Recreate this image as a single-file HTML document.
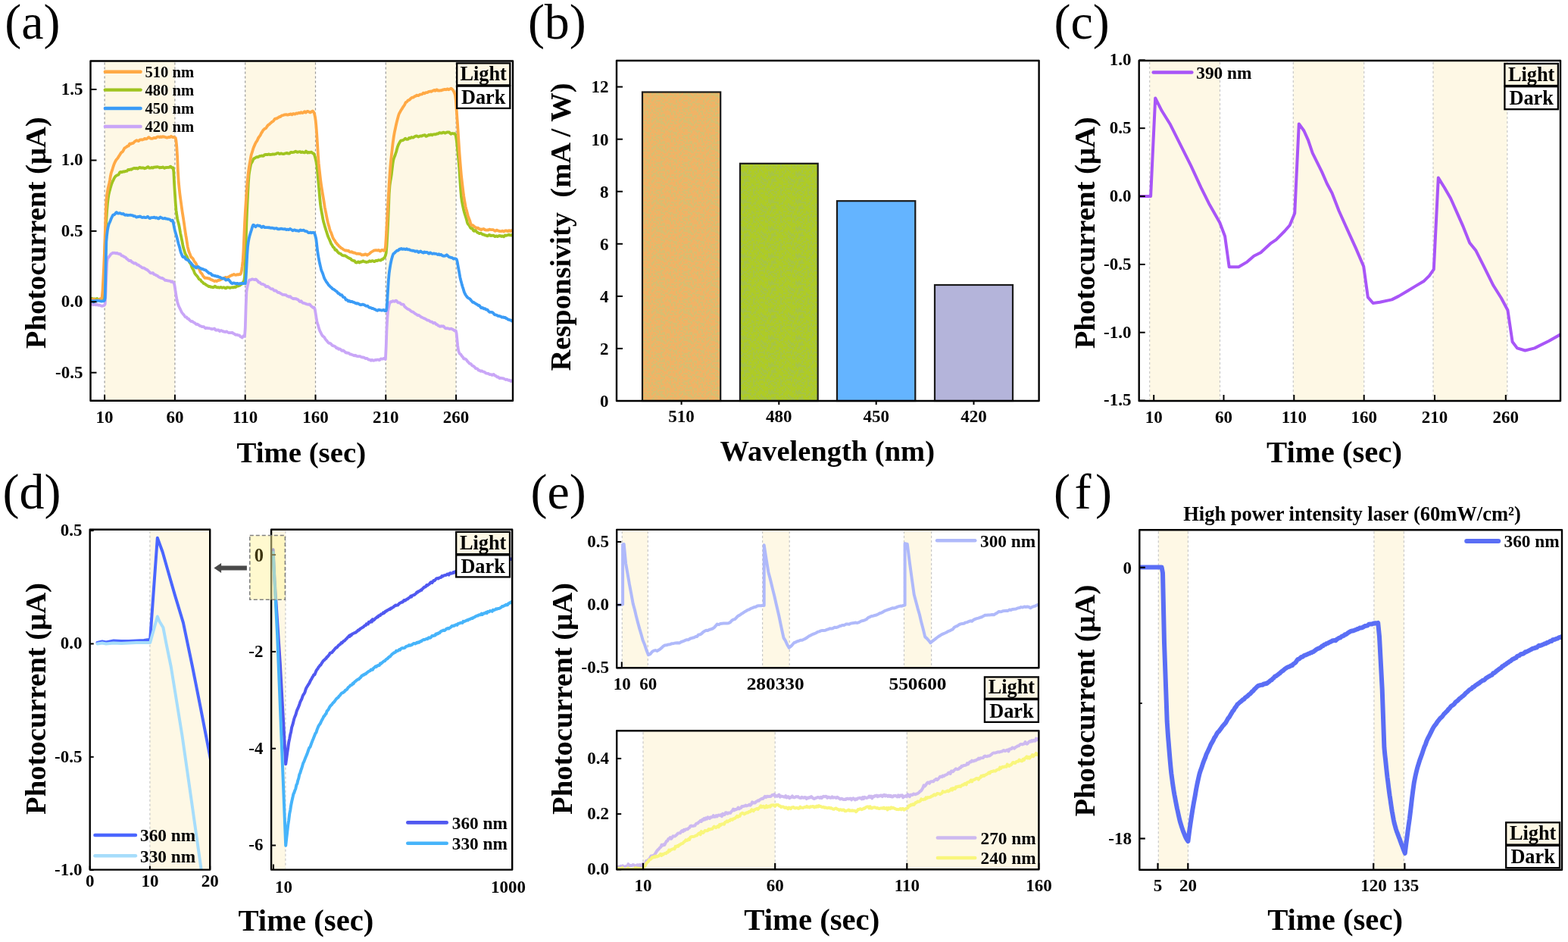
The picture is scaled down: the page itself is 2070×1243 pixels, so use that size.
<!DOCTYPE html>
<html><head><meta charset="utf-8"><title>Photocurrent figure</title>
<style>html,body{margin:0;padding:0;background:#fff;}svg{display:block;}
text{font-family:'Liberation Serif','Times New Roman',serif;}</style></head>
<body><svg width="2070" height="1243" viewBox="0 0 2070 1243">
<rect width="2070" height="1243" fill="#fff"/>
<clipPath id="ca"><rect x="119.5" y="80.5" width="557.5" height="448.2"/></clipPath>
<rect x="138.1" y="80.5" width="92.8" height="448.2" fill="#FEF8E5" stroke="none" stroke-width="0"/>
<rect x="323.7" y="80.5" width="92.8" height="448.2" fill="#FEF8E5" stroke="none" stroke-width="0"/>
<rect x="509.3" y="80.5" width="92.8" height="448.2" fill="#FEF8E5" stroke="none" stroke-width="0"/>
<line x1="138.1" y1="82.5" x2="138.1" y2="526.7" stroke="#9a9a9a" stroke-width="1.2" stroke-dasharray="3 3"/>
<line x1="230.9" y1="82.5" x2="230.9" y2="526.7" stroke="#9a9a9a" stroke-width="1.2" stroke-dasharray="3 3"/>
<line x1="323.7" y1="82.5" x2="323.7" y2="526.7" stroke="#9a9a9a" stroke-width="1.2" stroke-dasharray="3 3"/>
<line x1="416.5" y1="82.5" x2="416.5" y2="526.7" stroke="#9a9a9a" stroke-width="1.2" stroke-dasharray="3 3"/>
<line x1="509.3" y1="82.5" x2="509.3" y2="526.7" stroke="#9a9a9a" stroke-width="1.2" stroke-dasharray="3 3"/>
<line x1="602.1" y1="82.5" x2="602.1" y2="526.7" stroke="#9a9a9a" stroke-width="1.2" stroke-dasharray="3 3"/>
<path d="M119.5 400.5 L120.3 400.7 L121.1 401.3 L121.9 401.8 L122.7 402.0 L123.5 402.1 L124.3 401.6 L125.1 401.4 L125.9 402.1 L126.7 402.4 L127.5 402.1 L128.3 402.0 L129.1 402.4 L129.9 402.8 L130.7 402.5 L131.5 402.5 L132.3 403.0 L133.1 403.4 L133.9 403.7 L134.7 403.9 L135.5 403.7 L136.3 403.3 L137.1 403.1 L137.9 402.7 L138.7 401.1 L139.5 386.8 L140.3 365.3 L141.1 346.9 L141.9 341.5 L142.7 340.2 L143.5 339.3 L144.3 338.2 L145.1 337.2 L145.9 336.1 L146.7 335.0 L147.5 334.7 L148.3 334.2 L149.1 333.6 L149.9 333.8 L150.7 333.8 L151.5 333.6 L152.3 334.0 L153.1 334.4 L153.9 334.0 L154.8 334.0 L155.6 334.7 L156.4 334.8 L157.2 335.1 L158.0 335.4 L158.8 335.1 L159.6 336.0 L160.4 337.2 L161.2 337.5 L162.0 337.7 L162.8 338.2 L163.6 338.7 L164.4 339.2 L165.2 339.4 L166.0 339.9 L166.8 341.0 L167.6 341.7 L168.4 342.2 L169.2 342.9 L170.0 343.7 L170.8 344.1 L171.6 344.0 L172.4 343.8 L173.2 344.4 L174.0 345.7 L174.8 346.1 L175.6 346.4 L176.4 347.3 L177.2 347.6 L178.0 347.3 L178.8 347.2 L179.6 347.8 L180.4 348.8 L181.2 349.4 L182.0 349.5 L182.8 349.6 L183.6 350.4 L184.4 351.1 L185.2 351.3 L186.0 351.9 L186.8 352.6 L187.6 353.2 L188.4 353.5 L189.2 353.6 L190.0 353.5 L190.8 354.0 L191.6 354.7 L192.4 355.2 L193.2 355.6 L194.0 355.9 L194.8 356.4 L195.6 357.2 L196.4 358.0 L197.2 358.6 L198.0 359.6 L198.8 360.3 L199.6 360.3 L200.4 360.4 L201.2 360.1 L202.0 360.1 L202.8 361.4 L203.6 362.2 L204.4 362.2 L205.2 362.5 L206.0 363.2 L206.8 363.6 L207.6 363.7 L208.4 364.4 L209.2 365.3 L210.0 365.6 L210.8 366.0 L211.6 366.5 L212.4 366.8 L213.2 367.0 L214.0 366.9 L214.8 367.2 L215.6 367.9 L216.4 368.4 L217.2 369.0 L218.0 369.8 L218.8 369.8 L219.6 369.8 L220.4 370.2 L221.2 370.3 L222.0 370.5 L222.8 370.6 L223.6 370.7 L224.5 370.8 L225.3 371.4 L226.1 372.0 L226.9 371.4 L227.7 371.3 L228.5 372.4 L229.3 373.3 L230.1 374.7 L230.9 379.2 L231.7 384.9 L232.5 389.8 L233.3 394.2 L234.1 398.0 L234.9 401.2 L235.7 403.4 L236.5 405.0 L237.3 406.7 L238.1 408.3 L238.9 410.0 L239.7 411.7 L240.5 412.9 L241.3 413.9 L242.1 414.8 L242.9 415.8 L243.7 417.0 L244.5 418.1 L245.3 418.3 L246.1 418.4 L246.9 419.6 L247.7 420.6 L248.5 420.5 L249.3 420.9 L250.1 422.2 L250.9 422.9 L251.7 423.6 L252.5 424.1 L253.3 424.0 L254.1 424.2 L254.9 425.0 L255.7 425.5 L256.5 425.8 L257.3 426.3 L258.1 427.0 L258.9 427.8 L259.7 428.0 L260.5 427.7 L261.3 428.2 L262.1 428.8 L262.9 429.2 L263.7 429.9 L264.5 430.2 L265.3 430.3 L266.1 430.8 L266.9 431.2 L267.7 431.2 L268.5 431.1 L269.3 431.4 L270.1 432.1 L270.9 433.0 L271.7 433.3 L272.5 432.7 L273.3 432.7 L274.1 433.1 L274.9 433.2 L275.7 433.1 L276.5 433.2 L277.3 433.5 L278.1 433.8 L278.9 433.9 L279.7 434.4 L280.5 434.2 L281.3 434.0 L282.1 433.8 L282.9 433.5 L283.7 434.1 L284.5 435.5 L285.3 435.8 L286.1 435.4 L286.9 435.5 L287.7 435.4 L288.5 435.5 L289.3 436.6 L290.1 437.0 L290.9 436.3 L291.7 436.1 L292.5 436.4 L293.3 436.6 L294.2 437.2 L295.0 437.6 L295.8 437.5 L296.6 437.9 L297.4 438.0 L298.2 437.6 L299.0 437.4 L299.8 437.8 L300.6 438.4 L301.4 438.8 L302.2 439.1 L303.0 439.1 L303.8 439.0 L304.6 439.2 L305.4 439.1 L306.2 438.8 L307.0 439.1 L307.8 440.0 L308.6 440.2 L309.4 440.5 L310.2 441.2 L311.0 441.9 L311.8 441.8 L312.6 441.6 L313.4 441.9 L314.2 442.3 L315.0 442.3 L315.8 442.3 L316.6 443.1 L317.4 444.2 L318.2 444.5 L319.0 445.1 L319.8 445.5 L320.6 444.3 L321.4 443.2 L322.2 443.5 L323.0 443.9 L323.8 432.5 L324.6 405.2 L325.4 384.9 L326.2 379.9 L327.0 376.0 L327.8 372.9 L328.6 370.5 L329.4 369.4 L330.2 369.4 L331.0 369.3 L331.8 368.9 L332.6 368.5 L333.4 368.4 L334.2 368.7 L335.0 368.8 L335.8 369.0 L336.6 369.1 L337.4 368.5 L338.2 368.8 L339.0 369.8 L339.8 370.3 L340.6 371.3 L341.4 372.6 L342.2 372.6 L343.0 372.7 L343.8 373.5 L344.6 374.4 L345.4 374.8 L346.2 374.8 L347.0 374.8 L347.8 375.4 L348.6 375.8 L349.4 376.1 L350.2 377.0 L351.0 378.1 L351.8 378.4 L352.6 377.8 L353.4 377.8 L354.2 378.4 L355.0 379.1 L355.8 379.7 L356.6 380.3 L357.4 380.9 L358.2 381.3 L359.0 381.3 L359.8 381.2 L360.6 381.9 L361.4 382.8 L362.2 383.6 L363.0 383.7 L363.9 383.3 L364.7 383.8 L365.5 384.7 L366.3 385.5 L367.1 386.1 L367.9 386.0 L368.7 386.0 L369.5 386.6 L370.3 387.2 L371.1 387.4 L371.9 388.0 L372.7 388.6 L373.5 388.9 L374.3 388.8 L375.1 388.9 L375.9 389.2 L376.7 389.1 L377.5 389.1 L378.3 390.1 L379.1 390.7 L379.9 390.8 L380.7 391.2 L381.5 391.7 L382.3 391.2 L383.1 391.1 L383.9 392.0 L384.7 392.9 L385.5 393.3 L386.3 393.5 L387.1 394.2 L387.9 394.3 L388.7 394.0 L389.5 394.4 L390.3 394.2 L391.1 394.2 L391.9 394.9 L392.7 395.1 L393.5 395.3 L394.3 396.4 L395.1 397.5 L395.9 398.0 L396.7 397.6 L397.5 397.2 L398.3 397.9 L399.1 399.2 L399.9 399.8 L400.7 399.9 L401.5 400.0 L402.3 400.3 L403.1 400.6 L403.9 400.9 L404.7 401.3 L405.5 401.5 L406.3 401.7 L407.1 401.9 L407.9 401.7 L408.7 401.5 L409.5 402.2 L410.3 403.4 L411.1 404.2 L411.9 404.7 L412.7 405.6 L413.5 406.0 L414.3 405.7 L415.1 406.2 L415.9 409.0 L416.7 413.8 L417.5 418.8 L418.3 423.6 L419.1 426.9 L419.9 428.9 L420.7 431.9 L421.5 434.8 L422.3 436.8 L423.1 438.2 L423.9 439.8 L424.7 441.4 L425.5 442.7 L426.3 443.7 L427.1 444.2 L427.9 444.8 L428.7 446.1 L429.5 447.4 L430.3 448.4 L431.1 449.3 L431.9 450.3 L432.8 451.3 L433.6 452.4 L434.4 452.8 L435.2 452.8 L436.0 453.2 L436.8 453.7 L437.6 454.4 L438.4 455.7 L439.2 456.2 L440.0 456.1 L440.8 456.5 L441.6 457.0 L442.4 457.2 L443.2 458.1 L444.0 459.2 L444.8 459.5 L445.6 459.2 L446.4 460.0 L447.2 460.8 L448.0 460.5 L448.8 460.4 L449.6 461.0 L450.4 461.9 L451.2 462.8 L452.0 462.8 L452.8 462.4 L453.6 462.7 L454.4 463.4 L455.2 464.1 L456.0 465.0 L456.8 465.6 L457.6 465.5 L458.4 465.4 L459.2 465.9 L460.0 465.8 L460.8 466.2 L461.6 467.1 L462.4 467.5 L463.2 467.5 L464.0 467.7 L464.8 468.1 L465.6 468.5 L466.4 468.7 L467.2 469.2 L468.0 469.4 L468.8 469.0 L469.6 469.0 L470.4 469.7 L471.2 470.0 L472.0 470.2 L472.8 470.3 L473.6 470.1 L474.4 470.1 L475.2 470.2 L476.0 470.7 L476.8 471.0 L477.6 471.3 L478.4 471.6 L479.2 471.5 L480.0 471.6 L480.8 471.8 L481.6 472.4 L482.4 473.0 L483.2 473.0 L484.0 472.8 L484.8 473.1 L485.6 473.8 L486.4 474.4 L487.2 474.7 L488.0 474.6 L488.8 475.2 L489.6 475.7 L490.4 475.0 L491.2 474.8 L492.0 475.5 L492.8 475.8 L493.6 475.7 L494.4 475.4 L495.2 475.0 L496.0 475.1 L496.8 475.0 L497.6 474.6 L498.4 474.6 L499.2 474.6 L500.0 474.9 L500.8 475.3 L501.6 474.7 L502.5 473.6 L503.3 473.5 L504.1 473.7 L504.9 473.6 L505.7 473.5 L506.5 473.0 L507.3 472.7 L508.1 473.6 L508.9 474.1 L509.7 457.7 L510.5 434.7 L511.3 420.2 L512.1 410.4 L512.9 406.1 L513.7 402.5 L514.5 399.2 L515.3 398.3 L516.1 398.6 L516.9 398.2 L517.7 397.5 L518.5 397.2 L519.3 397.4 L520.1 397.7 L520.9 397.9 L521.7 397.5 L522.5 396.6 L523.3 396.8 L524.1 397.8 L524.9 398.8 L525.7 399.4 L526.5 399.3 L527.3 399.3 L528.1 399.8 L528.9 400.5 L529.7 401.3 L530.5 401.7 L531.3 401.7 L532.1 401.7 L532.9 402.2 L533.7 403.7 L534.5 404.9 L535.3 405.4 L536.1 406.2 L536.9 406.8 L537.7 407.4 L538.5 407.9 L539.3 408.1 L540.1 408.5 L540.9 409.0 L541.7 409.7 L542.5 410.5 L543.3 411.1 L544.1 411.3 L544.9 411.6 L545.7 411.9 L546.5 412.6 L547.3 413.3 L548.1 413.8 L548.9 414.4 L549.7 414.8 L550.5 415.3 L551.3 416.0 L552.1 415.9 L552.9 416.0 L553.7 416.6 L554.5 417.2 L555.3 417.8 L556.1 418.4 L556.9 418.7 L557.7 419.0 L558.5 419.5 L559.3 420.0 L560.1 420.2 L560.9 420.4 L561.7 421.0 L562.5 421.4 L563.3 421.9 L564.1 422.6 L564.9 422.7 L565.7 422.7 L566.5 423.1 L567.3 423.7 L568.1 424.4 L568.9 424.6 L569.7 424.6 L570.5 424.9 L571.3 425.8 L572.2 426.5 L573.0 426.2 L573.8 425.9 L574.6 426.4 L575.4 427.5 L576.2 428.2 L577.0 428.1 L577.8 428.9 L578.6 429.9 L579.4 429.9 L580.2 430.3 L581.0 430.9 L581.8 430.5 L582.6 430.2 L583.4 430.7 L584.2 430.7 L585.0 430.3 L585.8 430.7 L586.6 431.8 L587.4 432.7 L588.2 433.3 L589.0 433.4 L589.8 433.1 L590.6 433.1 L591.4 433.3 L592.2 433.5 L593.0 434.1 L593.8 434.1 L594.6 433.8 L595.4 433.7 L596.2 433.8 L597.0 434.3 L597.8 434.8 L598.6 435.2 L599.4 436.0 L600.2 436.4 L601.0 436.2 L601.8 436.4 L602.6 439.8 L603.4 447.7 L604.2 455.9 L605.0 461.7 L605.8 464.4 L606.6 466.4 L607.4 467.1 L608.2 467.5 L609.0 468.8 L609.8 470.1 L610.6 470.7 L611.4 471.8 L612.2 473.3 L613.0 473.6 L613.8 473.5 L614.6 473.9 L615.4 474.4 L616.2 475.4 L617.0 476.6 L617.8 477.4 L618.6 478.2 L619.4 479.3 L620.2 479.9 L621.0 479.8 L621.8 480.3 L622.6 481.6 L623.4 482.5 L624.2 482.8 L625.0 483.1 L625.8 483.7 L626.6 484.4 L627.4 485.5 L628.2 486.2 L629.0 486.3 L629.8 486.3 L630.6 486.9 L631.4 488.3 L632.2 488.7 L633.0 488.7 L633.8 489.4 L634.6 489.8 L635.4 489.4 L636.2 489.4 L637.0 490.1 L637.8 490.5 L638.6 490.7 L639.4 490.9 L640.2 491.3 L641.0 492.2 L641.9 492.7 L642.7 492.7 L643.5 492.8 L644.3 492.8 L645.1 493.2 L645.9 493.9 L646.7 494.1 L647.5 494.1 L648.3 494.2 L649.1 494.8 L649.9 495.0 L650.7 494.3 L651.5 493.9 L652.3 494.4 L653.1 495.5 L653.9 495.9 L654.7 495.9 L655.5 496.8 L656.3 497.5 L657.1 497.4 L657.9 497.5 L658.7 498.4 L659.5 499.2 L660.3 499.1 L661.1 498.7 L661.9 499.0 L662.7 499.2 L663.5 499.1 L664.3 499.3 L665.1 499.6 L665.9 500.0 L666.7 500.5 L667.5 501.0 L668.3 500.9 L669.1 500.6 L669.9 501.0 L670.7 501.6 L671.5 501.8 L672.3 501.7 L673.1 501.9 L673.9 502.8 L674.7 503.1 L675.5 502.2 L676.3 502.6" fill="none" stroke="#C9A6F7" stroke-width="3.8" stroke-linejoin="round" stroke-linecap="round" clip-path="url(#ca)"/>
<path d="M119.5 394.6 L120.3 394.4 L121.1 394.0 L121.9 393.9 L122.7 394.7 L123.5 394.9 L124.3 394.5 L125.1 394.5 L125.9 394.9 L126.7 394.8 L127.5 394.1 L128.3 394.0 L129.1 394.5 L129.9 395.3 L130.7 395.9 L131.5 395.5 L132.3 395.2 L133.1 395.0 L133.9 395.0 L134.7 395.7 L135.5 396.0 L136.3 395.7 L137.1 384.5 L137.9 356.0 L138.7 324.3 L139.5 304.0 L140.3 290.6 L141.1 278.4 L141.9 268.9 L142.7 262.0 L143.5 256.7 L144.3 253.3 L145.1 250.5 L145.9 247.4 L146.7 244.7 L147.5 242.2 L148.3 240.2 L149.1 238.7 L149.9 236.9 L150.7 235.4 L151.5 233.9 L152.3 232.8 L153.1 232.2 L153.9 231.6 L154.8 231.1 L155.6 230.9 L156.4 230.5 L157.2 229.2 L158.0 227.6 L158.8 226.9 L159.6 226.9 L160.4 227.3 L161.2 227.2 L162.0 226.6 L162.8 226.5 L163.6 226.6 L164.4 226.3 L165.2 226.1 L166.0 225.9 L166.8 225.8 L167.6 225.7 L168.4 224.8 L169.2 223.8 L170.0 224.0 L170.8 224.1 L171.6 223.6 L172.4 223.5 L173.2 223.8 L174.0 223.3 L174.8 222.6 L175.6 222.5 L176.4 222.2 L177.2 221.9 L178.0 222.2 L178.8 222.4 L179.6 221.9 L180.4 221.8 L181.2 222.5 L182.0 222.5 L182.8 221.9 L183.6 221.3 L184.4 220.9 L185.2 221.1 L186.0 221.7 L186.8 221.5 L187.6 221.4 L188.4 221.5 L189.2 221.4 L190.0 221.9 L190.8 222.3 L191.6 222.0 L192.4 221.9 L193.2 221.5 L194.0 220.9 L194.8 220.4 L195.6 220.2 L196.4 221.0 L197.2 221.7 L198.0 221.7 L198.8 221.6 L199.6 221.4 L200.4 221.0 L201.2 221.4 L202.0 221.6 L202.8 220.9 L203.6 220.6 L204.4 220.6 L205.2 220.5 L206.0 220.5 L206.8 220.4 L207.6 220.2 L208.4 220.3 L209.2 220.5 L210.0 220.8 L210.8 221.4 L211.6 221.2 L212.4 220.9 L213.2 221.0 L214.0 221.0 L214.8 220.4 L215.6 220.7 L216.4 221.6 L217.2 221.8 L218.0 221.3 L218.8 221.0 L219.6 221.1 L220.4 221.0 L221.2 220.9 L222.0 220.8 L222.8 221.0 L223.6 220.8 L224.5 219.8 L225.3 219.7 L226.1 220.8 L226.9 221.4 L227.7 221.1 L228.5 221.3 L229.3 226.4 L230.1 242.7 L230.9 255.2 L231.7 267.5 L232.5 277.2 L233.3 283.4 L234.1 288.4 L234.9 292.0 L235.7 294.8 L236.5 298.1 L237.3 302.5 L238.1 307.3 L238.9 311.2 L239.7 314.8 L240.5 318.9 L241.3 323.2 L242.1 326.8 L242.9 329.4 L243.7 332.1 L244.5 334.7 L245.3 336.2 L246.1 337.3 L246.9 338.8 L247.7 340.7 L248.5 342.4 L249.3 344.1 L250.1 345.9 L250.9 347.1 L251.7 347.9 L252.5 350.1 L253.3 352.6 L254.1 354.2 L254.9 355.4 L255.7 356.9 L256.5 359.1 L257.3 361.1 L258.1 362.0 L258.9 362.9 L259.7 363.8 L260.5 364.7 L261.3 365.9 L262.1 367.3 L262.9 368.5 L263.7 368.8 L264.5 369.0 L265.3 370.2 L266.1 371.5 L266.9 372.0 L267.7 372.5 L268.5 373.7 L269.3 374.3 L270.1 374.4 L270.9 374.9 L271.7 375.6 L272.5 376.1 L273.3 376.6 L274.1 377.0 L274.9 377.6 L275.7 378.2 L276.5 378.0 L277.3 378.0 L278.1 378.7 L278.9 378.8 L279.7 378.7 L280.5 379.1 L281.3 379.3 L282.1 379.2 L282.9 378.4 L283.7 377.6 L284.5 378.0 L285.3 378.9 L286.1 379.1 L286.9 379.3 L287.7 379.1 L288.5 379.2 L289.3 379.6 L290.1 379.5 L290.9 379.1 L291.7 379.0 L292.5 379.4 L293.3 379.8 L294.2 379.5 L295.0 379.2 L295.8 379.3 L296.6 379.5 L297.4 380.2 L298.2 380.4 L299.0 379.5 L299.8 379.1 L300.6 379.4 L301.4 379.3 L302.2 379.3 L303.0 379.7 L303.8 380.0 L304.6 379.5 L305.4 379.3 L306.2 379.4 L307.0 379.2 L307.8 379.4 L308.6 379.3 L309.4 378.6 L310.2 378.7 L311.0 379.1 L311.8 378.5 L312.6 377.5 L313.4 377.3 L314.2 377.5 L315.0 377.2 L315.8 376.8 L316.6 376.7 L317.4 376.1 L318.2 375.5 L319.0 375.0 L319.8 374.1 L320.6 372.7 L321.4 371.5 L322.2 370.2 L323.0 365.3 L323.8 346.4 L324.6 320.1 L325.4 293.9 L326.2 274.9 L327.0 257.6 L327.8 242.1 L328.6 231.3 L329.4 225.8 L330.2 221.5 L331.0 217.5 L331.8 215.1 L332.6 214.2 L333.4 212.6 L334.2 210.5 L335.0 209.4 L335.8 208.9 L336.6 208.6 L337.4 208.0 L338.2 207.5 L339.0 207.1 L339.8 207.1 L340.6 207.3 L341.4 206.9 L342.2 206.3 L343.0 205.8 L343.8 205.8 L344.6 205.8 L345.4 205.5 L346.2 205.6 L347.0 205.9 L347.8 205.7 L348.6 205.0 L349.4 204.2 L350.2 204.0 L351.0 204.0 L351.8 203.9 L352.6 204.0 L353.4 204.1 L354.2 203.6 L355.0 203.5 L355.8 203.9 L356.6 204.1 L357.4 203.9 L358.2 203.9 L359.0 203.8 L359.8 203.4 L360.6 203.4 L361.4 203.6 L362.2 203.6 L363.0 203.3 L363.9 203.2 L364.7 202.9 L365.5 202.4 L366.3 202.2 L367.1 202.0 L367.9 202.4 L368.7 203.1 L369.5 203.0 L370.3 202.6 L371.1 202.5 L371.9 202.6 L372.7 203.0 L373.5 203.2 L374.3 203.2 L375.1 203.1 L375.9 202.5 L376.7 202.3 L377.5 202.3 L378.3 201.9 L379.1 201.8 L379.9 202.4 L380.7 202.7 L381.5 202.5 L382.3 202.5 L383.1 201.6 L383.9 200.8 L384.7 200.9 L385.5 201.1 L386.3 201.2 L387.1 201.0 L387.9 200.8 L388.7 200.6 L389.5 200.0 L390.3 199.7 L391.1 200.1 L391.9 200.7 L392.7 200.9 L393.5 200.6 L394.3 200.4 L395.1 200.3 L395.9 200.1 L396.7 200.3 L397.5 201.2 L398.3 201.0 L399.1 200.4 L399.9 200.8 L400.7 201.2 L401.5 201.3 L402.3 201.3 L403.1 200.5 L403.9 199.5 L404.7 200.1 L405.5 201.3 L406.3 201.6 L407.1 201.1 L407.9 200.8 L408.7 201.3 L409.5 201.3 L410.3 200.7 L411.1 200.7 L411.9 201.4 L412.7 202.1 L413.5 202.4 L414.3 202.8 L415.1 204.6 L415.9 207.0 L416.7 210.4 L417.5 213.8 L418.3 218.8 L419.1 226.6 L419.9 235.8 L420.7 244.4 L421.5 253.3 L422.3 262.6 L423.1 270.3 L423.9 275.9 L424.7 280.2 L425.5 284.3 L426.3 288.9 L427.1 292.6 L427.9 295.3 L428.7 298.2 L429.5 300.9 L430.3 303.5 L431.1 305.9 L431.9 308.5 L432.8 311.3 L433.6 313.3 L434.4 315.0 L435.2 316.8 L436.0 318.7 L436.8 320.9 L437.6 322.4 L438.4 323.4 L439.2 325.0 L440.0 326.3 L440.8 326.5 L441.6 327.7 L442.4 329.7 L443.2 330.1 L444.0 329.8 L444.8 330.9 L445.6 332.2 L446.4 333.1 L447.2 333.8 L448.0 334.3 L448.8 334.6 L449.6 334.8 L450.4 335.5 L451.2 336.3 L452.0 336.8 L452.8 337.0 L453.6 337.4 L454.4 337.3 L455.2 337.2 L456.0 337.6 L456.8 338.1 L457.6 338.6 L458.4 339.2 L459.2 339.8 L460.0 340.1 L460.8 340.6 L461.6 341.0 L462.4 341.1 L463.2 341.8 L464.0 342.8 L464.8 343.3 L465.6 343.6 L466.4 343.9 L467.2 344.1 L468.0 344.2 L468.8 345.3 L469.6 346.3 L470.4 346.5 L471.2 346.5 L472.0 345.9 L472.8 345.3 L473.6 345.7 L474.4 346.6 L475.2 346.2 L476.0 345.3 L476.8 345.4 L477.6 345.6 L478.4 344.9 L479.2 344.3 L480.0 344.7 L480.8 345.3 L481.6 345.4 L482.4 345.4 L483.2 345.9 L484.0 346.0 L484.8 345.7 L485.6 345.7 L486.4 345.4 L487.2 344.6 L488.0 344.2 L488.8 344.8 L489.6 345.0 L490.4 344.7 L491.2 344.2 L492.0 344.1 L492.8 344.5 L493.6 345.1 L494.4 345.2 L495.2 344.7 L496.0 343.9 L496.8 343.9 L497.6 344.2 L498.4 343.9 L499.2 343.4 L500.0 343.2 L500.8 343.3 L501.6 343.5 L502.5 343.7 L503.3 342.9 L504.1 342.1 L504.9 342.4 L505.7 341.9 L506.5 340.8 L507.3 340.1 L508.1 339.0 L508.9 337.1 L509.7 333.8 L510.5 324.6 L511.3 310.9 L512.1 295.2 L512.9 276.8 L513.7 256.0 L514.5 245.1 L515.3 239.4 L516.1 235.0 L516.9 229.6 L517.7 222.8 L518.5 216.3 L519.3 211.3 L520.1 208.4 L520.9 206.6 L521.7 204.5 L522.5 202.0 L523.3 199.6 L524.1 196.6 L524.9 193.7 L525.7 191.6 L526.5 189.9 L527.3 188.4 L528.1 187.1 L528.9 185.9 L529.7 185.4 L530.5 185.4 L531.3 185.4 L532.1 185.0 L532.9 184.4 L533.7 184.0 L534.5 183.2 L535.3 182.7 L536.1 183.3 L536.9 183.9 L537.7 183.9 L538.5 183.7 L539.3 183.0 L540.1 182.0 L540.9 182.1 L541.7 182.4 L542.5 181.6 L543.3 181.0 L544.1 181.5 L544.9 181.7 L545.7 181.4 L546.5 180.8 L547.3 180.3 L548.1 179.8 L548.9 179.6 L549.7 179.4 L550.5 179.4 L551.3 180.0 L552.1 180.6 L552.9 180.3 L553.7 179.9 L554.5 179.7 L555.3 179.4 L556.1 179.7 L556.9 179.6 L557.7 178.8 L558.5 178.6 L559.3 178.7 L560.1 178.4 L560.9 178.2 L561.7 179.0 L562.5 179.9 L563.3 179.6 L564.1 179.1 L564.9 178.9 L565.7 178.2 L566.5 177.8 L567.3 178.3 L568.1 178.2 L568.9 177.4 L569.7 177.8 L570.5 178.3 L571.3 177.6 L572.2 177.4 L573.0 177.3 L573.8 177.1 L574.6 177.3 L575.4 177.4 L576.2 176.7 L577.0 176.4 L577.8 176.5 L578.6 176.4 L579.4 175.6 L580.2 175.1 L581.0 175.4 L581.8 175.5 L582.6 175.5 L583.4 175.6 L584.2 175.1 L585.0 174.7 L585.8 174.6 L586.6 175.1 L587.4 175.6 L588.2 175.5 L589.0 175.0 L589.8 174.6 L590.6 174.4 L591.4 174.5 L592.2 174.4 L593.0 174.4 L593.8 175.4 L594.6 176.4 L595.4 176.8 L596.2 176.4 L597.0 176.0 L597.8 176.2 L598.6 176.3 L599.4 176.2 L600.2 176.4 L601.0 177.2 L601.8 179.5 L602.6 184.4 L603.4 191.1 L604.2 199.1 L605.0 207.5 L605.8 215.7 L606.6 226.6 L607.4 239.3 L608.2 250.9 L609.0 260.1 L609.8 265.7 L610.6 269.9 L611.4 273.7 L612.2 277.3 L613.0 280.4 L613.8 282.8 L614.6 285.3 L615.4 287.9 L616.2 290.8 L617.0 294.0 L617.8 295.7 L618.6 296.4 L619.4 297.5 L620.2 298.9 L621.0 300.4 L621.8 301.3 L622.6 301.1 L623.4 301.4 L624.2 302.8 L625.0 304.2 L625.8 304.9 L626.6 304.3 L627.4 303.9 L628.2 304.7 L629.0 305.5 L629.8 306.3 L630.6 307.0 L631.4 307.2 L632.2 307.8 L633.0 308.1 L633.8 307.8 L634.6 307.7 L635.4 308.0 L636.2 308.5 L637.0 309.3 L637.8 309.6 L638.6 309.5 L639.4 309.9 L640.2 310.4 L641.0 310.5 L641.9 310.6 L642.7 311.1 L643.5 311.4 L644.3 311.1 L645.1 310.5 L645.9 309.8 L646.7 310.0 L647.5 311.0 L648.3 311.2 L649.1 310.7 L649.9 310.9 L650.7 310.9 L651.5 310.6 L652.3 311.2 L653.1 312.1 L653.9 312.0 L654.7 311.4 L655.5 311.5 L656.3 312.1 L657.1 312.0 L657.9 311.3 L658.7 311.2 L659.5 311.4 L660.3 311.1 L661.1 311.4 L661.9 312.0 L662.7 311.7 L663.5 311.3 L664.3 311.8 L665.1 312.3 L665.9 311.5 L666.7 310.5 L667.5 310.6 L668.3 310.9 L669.1 310.4 L669.9 310.4 L670.7 310.2 L671.5 309.6 L672.3 309.7 L673.1 310.3 L673.9 310.5 L674.7 310.2 L675.5 310.6 L676.3 309.7" fill="none" stroke="#A0C420" stroke-width="3.8" stroke-linejoin="round" stroke-linecap="round" clip-path="url(#ca)"/>
<path d="M119.5 396.4 L120.3 395.1 L121.1 395.5 L121.9 395.9 L122.7 395.3 L123.5 394.7 L124.3 394.9 L125.1 395.7 L125.9 396.3 L126.7 396.4 L127.5 396.9 L128.3 396.6 L129.1 395.9 L129.9 395.8 L130.7 395.6 L131.5 394.9 L132.3 394.1 L133.1 394.1 L133.9 394.5 L134.7 392.2 L135.5 382.8 L136.3 368.1 L137.1 351.9 L137.9 333.9 L138.7 309.0 L139.5 284.1 L140.3 266.1 L141.1 257.9 L141.9 252.5 L142.7 248.2 L143.5 244.7 L144.3 241.4 L145.1 237.3 L145.9 232.4 L146.7 228.5 L147.5 226.2 L148.3 223.9 L149.1 221.1 L149.9 218.7 L150.7 216.4 L151.5 214.6 L152.3 213.0 L153.1 211.5 L153.9 210.4 L154.8 209.5 L155.6 208.4 L156.4 207.1 L157.2 205.8 L158.0 204.6 L158.8 203.3 L159.6 202.0 L160.4 201.0 L161.2 200.7 L162.0 199.9 L162.8 198.6 L163.6 196.9 L164.4 195.4 L165.2 195.0 L166.0 194.6 L166.8 193.9 L167.6 193.5 L168.4 192.6 L169.2 192.7 L170.0 192.3 L170.8 190.1 L171.6 189.5 L172.4 190.1 L173.2 189.8 L174.0 189.2 L174.8 189.0 L175.6 189.0 L176.4 188.4 L177.2 187.4 L178.0 186.6 L178.8 186.2 L179.6 185.6 L180.4 185.2 L181.2 185.5 L182.0 185.9 L182.8 186.2 L183.6 185.6 L184.4 184.6 L185.2 184.5 L186.0 184.3 L186.8 184.2 L187.6 184.5 L188.4 184.3 L189.2 184.0 L190.0 183.7 L190.8 183.0 L191.6 182.9 L192.4 183.4 L193.2 183.4 L194.0 183.0 L194.8 182.5 L195.6 181.7 L196.4 181.1 L197.2 181.6 L198.0 182.3 L198.8 182.6 L199.6 182.8 L200.4 182.9 L201.2 182.8 L202.0 182.5 L202.8 182.1 L203.6 181.8 L204.4 181.9 L205.2 182.2 L206.0 181.9 L206.8 181.1 L207.6 180.7 L208.4 180.6 L209.2 180.5 L210.0 180.7 L210.8 181.1 L211.6 180.6 L212.4 180.3 L213.2 181.0 L214.0 180.7 L214.8 180.2 L215.6 180.5 L216.4 180.5 L217.2 180.6 L218.0 181.0 L218.8 181.2 L219.6 181.5 L220.4 181.6 L221.2 181.5 L222.0 181.2 L222.8 180.9 L223.6 181.1 L224.5 181.1 L225.3 180.2 L226.1 179.9 L226.9 180.5 L227.7 181.1 L228.5 181.1 L229.3 180.8 L230.1 181.2 L230.9 181.8 L231.7 181.9 L232.5 185.7 L233.3 193.7 L234.1 206.3 L234.9 225.7 L235.7 238.6 L236.5 247.3 L237.3 254.9 L238.1 261.2 L238.9 266.8 L239.7 272.8 L240.5 278.4 L241.3 283.6 L242.1 288.7 L242.9 294.0 L243.7 299.7 L244.5 305.2 L245.3 310.4 L246.1 314.9 L246.9 320.1 L247.7 325.3 L248.5 328.8 L249.3 331.7 L250.1 333.8 L250.9 335.6 L251.7 338.0 L252.5 339.5 L253.3 339.9 L254.1 340.7 L254.9 341.7 L255.7 343.3 L256.5 345.0 L257.3 345.9 L258.1 346.6 L258.9 348.1 L259.7 350.0 L260.5 351.7 L261.3 353.3 L262.1 354.3 L262.9 355.0 L263.7 356.9 L264.5 359.1 L265.3 360.1 L266.1 360.8 L266.9 361.9 L267.7 363.5 L268.5 364.7 L269.3 365.6 L270.1 366.6 L270.9 366.9 L271.7 366.6 L272.5 366.9 L273.3 367.0 L274.1 366.9 L274.9 367.4 L275.7 367.6 L276.5 367.4 L277.3 368.1 L278.1 368.9 L278.9 368.9 L279.7 369.3 L280.5 369.9 L281.3 370.0 L282.1 370.5 L282.9 371.1 L283.7 370.8 L284.5 370.5 L285.3 370.9 L286.1 371.1 L286.9 370.6 L287.7 370.0 L288.5 370.0 L289.3 369.9 L290.1 369.5 L290.9 369.4 L291.7 368.7 L292.5 368.0 L293.3 368.1 L294.2 367.8 L295.0 367.0 L295.8 366.9 L296.6 366.8 L297.4 366.0 L298.2 365.9 L299.0 366.6 L299.8 366.4 L300.6 365.9 L301.4 365.7 L302.2 365.3 L303.0 364.6 L303.8 364.1 L304.6 363.9 L305.4 363.4 L306.2 363.0 L307.0 363.1 L307.8 362.5 L308.6 361.9 L309.4 362.2 L310.2 362.8 L311.0 362.8 L311.8 362.8 L312.6 362.3 L313.4 362.1 L314.2 362.5 L315.0 362.3 L315.8 361.8 L316.6 361.9 L317.4 362.0 L318.2 360.4 L319.0 356.9 L319.8 351.2 L320.6 344.2 L321.4 331.5 L322.2 313.9 L323.0 295.3 L323.8 280.2 L324.6 267.7 L325.4 255.8 L326.2 245.0 L327.0 235.8 L327.8 228.3 L328.6 222.1 L329.4 217.0 L330.2 212.5 L331.0 207.9 L331.8 204.0 L332.6 201.6 L333.4 199.2 L334.2 196.3 L335.0 194.1 L335.8 192.4 L336.6 190.6 L337.4 188.8 L338.2 187.3 L339.0 186.4 L339.8 184.9 L340.6 183.0 L341.4 181.5 L342.2 180.5 L343.0 179.4 L343.8 178.2 L344.6 176.4 L345.4 175.0 L346.2 174.0 L347.0 172.4 L347.8 171.3 L348.6 170.7 L349.4 169.9 L350.2 169.7 L351.0 169.2 L351.8 168.0 L352.6 166.7 L353.4 165.7 L354.2 164.9 L355.0 164.4 L355.8 163.9 L356.6 162.9 L357.4 162.3 L358.2 161.6 L359.0 160.8 L359.8 160.5 L360.6 160.0 L361.4 159.1 L362.2 157.8 L363.0 156.8 L363.9 156.5 L364.7 156.6 L365.5 156.4 L366.3 155.7 L367.1 155.2 L367.9 154.9 L368.7 154.1 L369.5 154.0 L370.3 154.0 L371.1 153.2 L371.9 152.6 L372.7 152.3 L373.5 152.2 L374.3 152.0 L375.1 151.5 L375.9 151.4 L376.7 151.4 L377.5 151.2 L378.3 151.2 L379.1 151.6 L379.9 151.7 L380.7 151.3 L381.5 151.0 L382.3 151.1 L383.1 150.7 L383.9 150.3 L384.7 150.8 L385.5 151.3 L386.3 150.6 L387.1 150.0 L387.9 150.2 L388.7 150.5 L389.5 150.6 L390.3 150.1 L391.1 149.5 L391.9 149.6 L392.7 149.8 L393.5 149.4 L394.3 148.9 L395.1 149.0 L395.9 149.3 L396.7 148.8 L397.5 148.1 L398.3 148.6 L399.1 149.0 L399.9 148.9 L400.7 148.5 L401.5 147.6 L402.3 147.3 L403.1 148.3 L403.9 148.6 L404.7 147.5 L405.5 146.9 L406.3 146.9 L407.1 147.2 L407.9 147.7 L408.7 148.1 L409.5 148.4 L410.3 148.1 L411.1 147.4 L411.9 147.0 L412.7 146.5 L413.5 147.0 L414.3 148.2 L415.1 150.2 L415.9 153.8 L416.7 159.1 L417.5 167.5 L418.3 178.4 L419.1 191.1 L419.9 204.6 L420.7 215.4 L421.5 222.7 L422.3 229.9 L423.1 237.0 L423.9 243.0 L424.7 248.4 L425.5 253.4 L426.3 258.0 L427.1 262.6 L427.9 267.9 L428.7 273.3 L429.5 277.4 L430.3 281.2 L431.1 285.3 L431.9 289.3 L432.8 293.4 L433.6 296.6 L434.4 299.0 L435.2 302.2 L436.0 304.8 L436.8 306.3 L437.6 308.4 L438.4 310.8 L439.2 312.9 L440.0 314.8 L440.8 316.1 L441.6 317.0 L442.4 318.3 L443.2 319.8 L444.0 320.6 L444.8 321.8 L445.6 322.8 L446.4 323.2 L447.2 324.4 L448.0 325.4 L448.8 325.6 L449.6 326.6 L450.4 327.4 L451.2 327.6 L452.0 328.1 L452.8 328.8 L453.6 329.4 L454.4 329.8 L455.2 330.1 L456.0 330.7 L456.8 330.7 L457.6 330.3 L458.4 330.8 L459.2 331.0 L460.0 330.7 L460.8 331.5 L461.6 332.3 L462.4 332.5 L463.2 332.7 L464.0 332.2 L464.8 332.3 L465.6 333.2 L466.4 333.5 L467.2 333.4 L468.0 333.7 L468.8 333.9 L469.6 334.2 L470.4 334.8 L471.2 334.8 L472.0 334.6 L472.8 334.6 L473.6 334.8 L474.4 335.1 L475.2 335.0 L476.0 335.2 L476.8 335.9 L477.6 336.5 L478.4 336.4 L479.2 336.1 L480.0 336.3 L480.8 336.1 L481.6 335.6 L482.4 335.3 L483.2 335.6 L484.0 336.5 L484.8 336.8 L485.6 336.1 L486.4 335.5 L487.2 335.1 L488.0 334.6 L488.8 333.7 L489.6 333.0 L490.4 332.5 L491.2 332.0 L492.0 331.5 L492.8 331.1 L493.6 330.6 L494.4 330.3 L495.2 330.3 L496.0 330.1 L496.8 330.1 L497.6 330.3 L498.4 330.5 L499.2 330.4 L500.0 329.9 L500.8 330.6 L501.6 331.4 L502.5 331.3 L503.3 330.5 L504.1 329.8 L504.9 329.9 L505.7 330.4 L506.5 330.8 L507.3 330.6 L508.1 329.9 L508.9 325.6 L509.7 314.0 L510.5 299.1 L511.3 286.1 L512.1 272.5 L512.9 257.5 L513.7 243.4 L514.5 231.0 L515.3 220.3 L516.1 211.4 L516.9 204.2 L517.7 197.1 L518.5 189.9 L519.3 183.9 L520.1 178.6 L520.9 174.2 L521.7 170.5 L522.5 166.6 L523.3 163.0 L524.1 159.8 L524.9 156.7 L525.7 153.7 L526.5 151.0 L527.3 149.3 L528.1 148.0 L528.9 146.4 L529.7 145.0 L530.5 143.9 L531.3 142.6 L532.1 141.2 L532.9 140.1 L533.7 139.0 L534.5 137.6 L535.3 135.8 L536.1 134.8 L536.9 134.6 L537.7 133.7 L538.5 132.5 L539.3 132.2 L540.1 132.1 L540.9 131.4 L541.7 130.5 L542.5 129.8 L543.3 129.2 L544.1 128.7 L544.9 128.7 L545.7 128.6 L546.5 127.9 L547.3 127.1 L548.1 127.0 L548.9 126.8 L549.7 125.9 L550.5 125.7 L551.3 126.1 L552.1 126.2 L552.9 125.8 L553.7 125.2 L554.5 124.7 L555.3 124.7 L556.1 124.5 L556.9 124.3 L557.7 123.8 L558.5 122.9 L559.3 122.7 L560.1 123.3 L560.9 123.1 L561.7 122.4 L562.5 122.2 L563.3 122.2 L564.1 122.1 L564.9 121.7 L565.7 121.1 L566.5 120.8 L567.3 120.8 L568.1 120.5 L568.9 120.8 L569.7 120.8 L570.5 120.1 L571.3 119.7 L572.2 119.6 L573.0 119.0 L573.8 119.0 L574.6 119.8 L575.4 119.5 L576.2 118.4 L577.0 118.3 L577.8 119.3 L578.6 119.7 L579.4 119.5 L580.2 119.5 L581.0 119.5 L581.8 119.2 L582.6 119.4 L583.4 119.1 L584.2 118.5 L585.0 118.5 L585.8 118.4 L586.6 117.8 L587.4 117.8 L588.2 118.1 L589.0 118.3 L589.8 118.0 L590.6 117.3 L591.4 117.6 L592.2 118.3 L593.0 118.0 L593.8 117.5 L594.6 117.1 L595.4 116.7 L596.2 117.0 L597.0 117.8 L597.8 118.6 L598.6 119.9 L599.4 121.4 L600.2 123.1 L601.0 125.6 L601.8 132.2 L602.6 143.6 L603.4 155.1 L604.2 166.0 L605.0 178.6 L605.8 191.2 L606.6 202.9 L607.4 213.2 L608.2 223.0 L609.0 231.8 L609.8 239.0 L610.6 245.8 L611.4 252.5 L612.2 258.5 L613.0 263.5 L613.8 268.0 L614.6 272.6 L615.4 275.7 L616.2 278.4 L617.0 281.6 L617.8 284.7 L618.6 287.3 L619.4 289.1 L620.2 291.1 L621.0 293.9 L621.8 296.5 L622.6 297.4 L623.4 297.2 L624.2 297.2 L625.0 297.9 L625.8 298.6 L626.6 299.5 L627.4 300.0 L628.2 300.1 L629.0 300.6 L629.8 301.1 L630.6 300.7 L631.4 300.8 L632.2 302.0 L633.0 302.5 L633.8 302.2 L634.6 302.8 L635.4 303.2 L636.2 302.5 L637.0 302.4 L637.8 302.4 L638.6 302.0 L639.4 302.5 L640.2 303.2 L641.0 303.4 L641.9 303.7 L642.7 303.7 L643.5 303.4 L644.3 303.6 L645.1 303.4 L645.9 302.7 L646.7 302.7 L647.5 303.0 L648.3 303.2 L649.1 303.1 L649.9 303.1 L650.7 303.2 L651.5 303.4 L652.3 304.0 L653.1 304.6 L653.9 304.8 L654.7 304.5 L655.5 303.7 L656.3 303.7 L657.1 304.3 L657.9 304.6 L658.7 304.7 L659.5 305.1 L660.3 305.1 L661.1 305.1 L661.9 305.2 L662.7 304.9 L663.5 304.7 L664.3 305.1 L665.1 305.5 L665.9 305.1 L666.7 304.5 L667.5 304.6 L668.3 304.3 L669.1 304.3 L669.9 305.1 L670.7 305.2 L671.5 304.3 L672.3 304.1 L673.1 304.9 L673.9 305.0 L674.7 304.4 L675.5 304.1 L676.3 304.9" fill="none" stroke="#FFA945" stroke-width="3.8" stroke-linejoin="round" stroke-linecap="round" clip-path="url(#ca)"/>
<path d="M119.5 397.4 L120.3 397.5 L121.1 397.3 L121.9 396.9 L122.7 397.7 L123.5 398.5 L124.3 397.9 L125.1 397.0 L125.9 396.7 L126.7 397.1 L127.5 397.3 L128.3 396.8 L129.1 396.6 L129.9 396.8 L130.7 396.8 L131.5 397.0 L132.3 397.4 L133.1 397.4 L133.9 397.5 L134.7 397.5 L135.5 397.3 L136.3 397.4 L137.1 397.0 L137.9 396.7 L138.7 393.2 L139.5 355.9 L140.3 319.4 L141.1 310.2 L141.9 304.0 L142.7 299.6 L143.5 296.5 L144.3 294.4 L145.1 292.8 L145.9 290.9 L146.7 288.7 L147.5 286.9 L148.3 285.5 L149.1 283.8 L149.9 283.3 L150.7 283.4 L151.5 282.6 L152.3 281.8 L153.1 280.7 L153.9 280.2 L154.8 281.1 L155.6 281.6 L156.4 281.6 L157.2 281.4 L158.0 281.2 L158.8 281.4 L159.6 281.9 L160.4 281.9 L161.2 282.4 L162.0 282.4 L162.8 282.0 L163.6 282.5 L164.4 283.5 L165.2 283.8 L166.0 283.8 L166.8 283.5 L167.6 283.6 L168.4 284.1 L169.2 284.0 L170.0 283.8 L170.8 283.9 L171.6 283.8 L172.4 283.7 L173.2 284.0 L174.0 284.2 L174.8 284.1 L175.6 284.5 L176.4 285.2 L177.2 285.1 L178.0 285.1 L178.8 285.7 L179.6 286.3 L180.4 286.6 L181.2 286.3 L182.0 285.9 L182.8 286.0 L183.6 286.0 L184.4 285.5 L185.2 285.6 L186.0 286.2 L186.8 286.6 L187.6 286.9 L188.4 287.0 L189.2 286.8 L190.0 286.5 L190.8 286.8 L191.6 287.2 L192.4 287.1 L193.2 287.0 L194.0 286.4 L194.8 285.8 L195.6 286.2 L196.4 287.1 L197.2 287.9 L198.0 288.1 L198.8 287.7 L199.6 287.1 L200.4 287.1 L201.2 287.2 L202.0 287.2 L202.8 286.8 L203.6 286.6 L204.4 287.2 L205.2 287.6 L206.0 287.4 L206.8 287.2 L207.6 287.7 L208.4 288.3 L209.2 288.5 L210.0 288.2 L210.8 287.0 L211.6 286.5 L212.4 287.2 L213.2 287.4 L214.0 287.6 L214.8 288.3 L215.6 288.3 L216.4 288.3 L217.2 288.0 L218.0 288.0 L218.8 288.7 L219.6 288.7 L220.4 288.7 L221.2 289.1 L222.0 289.1 L222.8 289.1 L223.6 289.5 L224.5 289.8 L225.3 290.6 L226.1 291.4 L226.9 290.8 L227.7 290.7 L228.5 292.9 L229.3 296.5 L230.1 300.7 L230.9 304.2 L231.7 307.2 L232.5 309.7 L233.3 312.3 L234.1 315.5 L234.9 318.8 L235.7 322.0 L236.5 324.4 L237.3 327.2 L238.1 330.8 L238.9 333.5 L239.7 335.3 L240.5 337.4 L241.3 339.0 L242.1 339.3 L242.9 339.0 L243.7 339.3 L244.5 340.7 L245.3 342.0 L246.1 342.3 L246.9 342.6 L247.7 343.3 L248.5 343.4 L249.3 343.9 L250.1 345.2 L250.9 346.0 L251.7 346.5 L252.5 347.6 L253.3 348.8 L254.1 349.5 L254.9 350.4 L255.7 351.3 L256.5 351.6 L257.3 352.1 L258.1 352.9 L258.9 353.5 L259.7 353.1 L260.5 352.0 L261.3 351.8 L262.1 352.3 L262.9 352.9 L263.7 353.6 L264.5 353.9 L265.3 354.1 L266.1 354.8 L266.9 355.1 L267.7 355.0 L268.5 355.4 L269.3 355.9 L270.1 356.1 L270.9 356.3 L271.7 356.6 L272.5 357.4 L273.3 358.2 L274.1 358.8 L274.9 359.5 L275.7 360.3 L276.5 360.7 L277.3 360.7 L278.1 360.8 L278.9 361.6 L279.7 362.9 L280.5 363.3 L281.3 363.2 L282.1 363.5 L282.9 363.9 L283.7 364.1 L284.5 364.0 L285.3 364.5 L286.1 364.9 L286.9 364.5 L287.7 364.7 L288.5 365.4 L289.3 365.7 L290.1 365.9 L290.9 366.0 L291.7 366.5 L292.5 367.2 L293.3 367.4 L294.2 367.5 L295.0 367.3 L295.8 367.4 L296.6 367.7 L297.4 368.9 L298.2 369.7 L299.0 369.5 L299.8 369.3 L300.6 369.0 L301.4 368.7 L302.2 369.4 L303.0 370.5 L303.8 371.5 L304.6 372.5 L305.4 373.5 L306.2 374.1 L307.0 374.0 L307.8 373.5 L308.6 373.4 L309.4 373.6 L310.2 373.9 L311.0 374.2 L311.8 374.1 L312.6 373.9 L313.4 373.8 L314.2 374.2 L315.0 374.8 L315.8 374.5 L316.6 374.0 L317.4 374.3 L318.2 374.4 L319.0 373.7 L319.8 373.7 L320.6 374.2 L321.4 374.1 L322.2 373.6 L323.0 373.8 L323.8 374.1 L324.6 367.0 L325.4 353.0 L326.2 337.2 L327.0 325.7 L327.8 319.5 L328.6 315.1 L329.4 311.8 L330.2 309.0 L331.0 306.5 L331.8 304.0 L332.6 301.2 L333.4 298.5 L334.2 296.9 L335.0 296.8 L335.8 297.6 L336.6 298.6 L337.4 299.3 L338.2 298.6 L339.0 297.7 L339.8 297.4 L340.6 297.5 L341.4 297.8 L342.2 298.1 L343.0 298.0 L343.8 298.4 L344.6 299.3 L345.4 300.0 L346.2 299.8 L347.0 298.9 L347.8 298.6 L348.6 299.4 L349.4 300.2 L350.2 300.2 L351.0 300.1 L351.8 300.2 L352.6 300.2 L353.4 300.2 L354.2 300.3 L355.0 300.1 L355.8 300.3 L356.6 300.7 L357.4 300.9 L358.2 300.8 L359.0 300.6 L359.8 300.8 L360.6 301.0 L361.4 301.4 L362.2 301.6 L363.0 301.3 L363.9 301.3 L364.7 301.1 L365.5 301.4 L366.3 302.2 L367.1 302.3 L367.9 302.1 L368.7 302.3 L369.5 302.2 L370.3 301.8 L371.1 301.7 L371.9 301.9 L372.7 302.1 L373.5 302.2 L374.3 302.4 L375.1 302.3 L375.9 302.1 L376.7 302.4 L377.5 302.9 L378.3 303.1 L379.1 302.7 L379.9 302.6 L380.7 303.0 L381.5 303.1 L382.3 302.4 L383.1 301.9 L383.9 302.6 L384.7 303.0 L385.5 303.6 L386.3 304.3 L387.1 304.1 L387.9 303.5 L388.7 303.3 L389.5 303.7 L390.3 304.3 L391.1 304.2 L391.9 304.1 L392.7 304.4 L393.5 304.6 L394.3 304.9 L395.1 304.6 L395.9 303.8 L396.7 303.4 L397.5 303.8 L398.3 304.1 L399.1 304.0 L399.9 303.8 L400.7 303.7 L401.5 304.2 L402.3 304.8 L403.1 305.0 L403.9 305.1 L404.7 305.2 L405.5 305.5 L406.3 306.4 L407.1 307.0 L407.9 307.1 L408.7 307.1 L409.5 306.7 L410.3 306.9 L411.1 307.3 L411.9 306.9 L412.7 306.8 L413.5 307.1 L414.3 306.8 L415.1 307.5 L415.9 309.9 L416.7 312.7 L417.5 316.7 L418.3 323.6 L419.1 330.6 L419.9 336.0 L420.7 340.7 L421.5 344.8 L422.3 348.5 L423.1 351.9 L423.9 355.3 L424.7 357.8 L425.5 359.5 L426.3 361.5 L427.1 364.0 L427.9 366.5 L428.7 368.3 L429.5 369.5 L430.3 370.9 L431.1 372.2 L431.9 373.2 L432.8 374.5 L433.6 375.8 L434.4 376.6 L435.2 377.4 L436.0 378.3 L436.8 378.8 L437.6 379.6 L438.4 380.5 L439.2 381.2 L440.0 381.6 L440.8 381.9 L441.6 382.5 L442.4 383.2 L443.2 383.8 L444.0 384.3 L444.8 384.8 L445.6 386.1 L446.4 387.1 L447.2 386.9 L448.0 387.5 L448.8 388.7 L449.6 389.3 L450.4 389.4 L451.2 389.2 L452.0 390.4 L452.8 391.8 L453.6 392.2 L454.4 392.3 L455.2 392.8 L456.0 394.4 L456.8 395.6 L457.6 395.6 L458.4 395.8 L459.2 396.8 L460.0 397.5 L460.8 397.0 L461.6 397.1 L462.4 398.1 L463.2 398.2 L464.0 397.9 L464.8 397.8 L465.6 398.3 L466.4 398.9 L467.2 398.9 L468.0 399.3 L468.8 399.8 L469.6 399.9 L470.4 400.6 L471.2 400.7 L472.0 400.1 L472.8 400.5 L473.6 401.1 L474.4 401.3 L475.2 402.0 L476.0 402.3 L476.8 402.1 L477.6 402.0 L478.4 401.7 L479.2 401.7 L480.0 402.1 L480.8 402.3 L481.6 402.6 L482.4 403.3 L483.2 403.7 L484.0 403.8 L484.8 403.7 L485.6 403.9 L486.4 404.9 L487.2 405.6 L488.0 405.8 L488.8 406.0 L489.6 406.1 L490.4 406.6 L491.2 407.1 L492.0 406.9 L492.8 407.2 L493.6 407.8 L494.4 407.9 L495.2 408.4 L496.0 408.9 L496.8 409.2 L497.6 409.6 L498.4 409.8 L499.2 409.4 L500.0 408.7 L500.8 408.8 L501.6 409.2 L502.5 409.2 L503.3 409.5 L504.1 409.6 L504.9 409.4 L505.7 409.2 L506.5 408.9 L507.3 409.7 L508.1 410.2 L508.9 409.9 L509.7 410.0 L510.5 406.6 L511.3 396.6 L512.1 382.5 L512.9 369.3 L513.7 360.6 L514.5 355.0 L515.3 350.0 L516.1 345.9 L516.9 342.3 L517.7 339.4 L518.5 336.9 L519.3 334.9 L520.1 334.3 L520.9 333.9 L521.7 332.8 L522.5 332.1 L523.3 331.5 L524.1 330.7 L524.9 330.5 L525.7 330.6 L526.5 329.6 L527.3 328.7 L528.1 328.9 L528.9 328.6 L529.7 328.0 L530.5 328.3 L531.3 328.9 L532.1 328.8 L532.9 328.4 L533.7 328.4 L534.5 329.0 L535.3 329.2 L536.1 328.5 L536.9 328.2 L537.7 328.8 L538.5 329.3 L539.3 329.3 L540.1 329.2 L540.9 329.6 L541.7 330.2 L542.5 330.3 L543.3 330.5 L544.1 330.8 L544.9 330.7 L545.7 330.7 L546.5 331.0 L547.3 331.3 L548.1 331.8 L548.9 331.6 L549.7 331.4 L550.5 331.3 L551.3 331.7 L552.1 332.7 L552.9 333.1 L553.7 332.5 L554.5 331.8 L555.3 331.5 L556.1 332.2 L556.9 332.9 L557.7 333.0 L558.5 333.6 L559.3 333.5 L560.1 332.5 L560.9 332.6 L561.7 333.1 L562.5 332.9 L563.3 332.8 L564.1 333.1 L564.9 333.6 L565.7 334.6 L566.5 334.7 L567.3 333.7 L568.1 333.4 L568.9 333.9 L569.7 334.4 L570.5 334.8 L571.3 334.8 L572.2 334.3 L573.0 334.4 L573.8 334.8 L574.6 334.8 L575.4 334.8 L576.2 335.0 L577.0 335.5 L577.8 336.1 L578.6 335.6 L579.4 335.2 L580.2 336.1 L581.0 336.4 L581.8 336.0 L582.6 336.0 L583.4 336.8 L584.2 337.5 L585.0 337.5 L585.8 337.9 L586.6 337.9 L587.4 337.5 L588.2 337.5 L589.0 336.8 L589.8 336.3 L590.6 336.9 L591.4 337.9 L592.2 338.7 L593.0 339.2 L593.8 339.4 L594.6 339.6 L595.4 339.9 L596.2 340.0 L597.0 340.2 L597.8 340.8 L598.6 341.5 L599.4 341.5 L600.2 341.2 L601.0 341.3 L601.8 341.4 L602.6 342.0 L603.4 344.1 L604.2 348.2 L605.0 352.9 L605.8 357.2 L606.6 361.7 L607.4 366.1 L608.2 369.5 L609.0 372.4 L609.8 375.6 L610.6 378.3 L611.4 380.6 L612.2 383.4 L613.0 385.9 L613.8 387.5 L614.6 389.0 L615.4 390.2 L616.2 391.3 L617.0 392.3 L617.8 393.0 L618.6 393.5 L619.4 393.9 L620.2 394.4 L621.0 395.2 L621.8 396.2 L622.6 397.1 L623.4 398.1 L624.2 398.9 L625.0 398.8 L625.8 399.2 L626.6 400.0 L627.4 400.3 L628.2 400.9 L629.0 401.4 L629.8 401.6 L630.6 402.4 L631.4 403.1 L632.2 402.9 L633.0 403.2 L633.8 404.5 L634.6 405.5 L635.4 406.3 L636.2 406.3 L637.0 406.0 L637.8 406.6 L638.6 407.4 L639.4 407.3 L640.2 407.1 L641.0 408.0 L641.9 408.5 L642.7 408.4 L643.5 408.8 L644.3 409.7 L645.1 410.7 L645.9 411.6 L646.7 411.9 L647.5 411.9 L648.3 411.9 L649.1 412.0 L649.9 412.2 L650.7 412.7 L651.5 413.4 L652.3 414.6 L653.1 415.3 L653.9 415.4 L654.7 415.5 L655.5 415.8 L656.3 416.1 L657.1 416.8 L657.9 417.0 L658.7 416.9 L659.5 417.1 L660.3 417.5 L661.1 417.6 L661.9 418.2 L662.7 418.8 L663.5 418.5 L664.3 418.3 L665.1 419.0 L665.9 419.0 L666.7 418.8 L667.5 419.5 L668.3 420.2 L669.1 420.2 L669.9 420.8 L670.7 421.6 L671.5 421.8 L672.3 421.9 L673.1 422.3 L673.9 422.5 L674.7 422.6 L675.5 423.5 L676.3 423.5" fill="none" stroke="#3A9BF6" stroke-width="3.8" stroke-linejoin="round" stroke-linecap="round" clip-path="url(#ca)"/>
<line x1="138.8" y1="94.7" x2="185.6" y2="94.7" stroke="#FFA945" stroke-width="4.4" stroke-linecap="round"/>
<text x="191.5" y="102.1" font-size="20.6" font-weight="bold" text-anchor="start" fill="#000">510 nm</text>
<line x1="138.8" y1="118.6" x2="185.6" y2="118.6" stroke="#A0C420" stroke-width="4.4" stroke-linecap="round"/>
<text x="191.5" y="126" font-size="20.6" font-weight="bold" text-anchor="start" fill="#000">480 nm</text>
<line x1="138.8" y1="143" x2="185.6" y2="143" stroke="#3A9BF6" stroke-width="4.4" stroke-linecap="round"/>
<text x="191.5" y="150.4" font-size="20.6" font-weight="bold" text-anchor="start" fill="#000">450 nm</text>
<line x1="138.8" y1="167" x2="185.6" y2="167" stroke="#C9A6F7" stroke-width="4.4" stroke-linecap="round"/>
<text x="191.5" y="174.4" font-size="20.6" font-weight="bold" text-anchor="start" fill="#000">420 nm</text>
<rect x="603.2" y="83.4" width="70.1" height="29" fill="#FEF8E5" stroke="#000" stroke-width="2.3"/>
<rect x="603.2" y="113.6" width="70.1" height="29.3" fill="#fff" stroke="#000" stroke-width="2.3"/>
<text x="638.2" y="106" font-size="26.3" font-weight="bold" text-anchor="middle" fill="#000">Light</text>
<text x="638.2" y="137.1" font-size="26.3" font-weight="bold" text-anchor="middle" fill="#000">Dark</text>
<rect x="119.5" y="80.5" width="557.5" height="448.2" fill="none" stroke="#000" stroke-width="2.4" stroke-linejoin="round"/>
<line x1="138.1" y1="528.7" x2="138.1" y2="520.7" stroke="#000" stroke-width="2"/>
<text x="138.1" y="558" font-size="23" font-weight="bold" text-anchor="middle" fill="#000">10</text>
<line x1="230.9" y1="528.7" x2="230.9" y2="520.7" stroke="#000" stroke-width="2"/>
<text x="230.9" y="558" font-size="23" font-weight="bold" text-anchor="middle" fill="#000">60</text>
<line x1="323.7" y1="528.7" x2="323.7" y2="520.7" stroke="#000" stroke-width="2"/>
<text x="323.7" y="558" font-size="23" font-weight="bold" text-anchor="middle" fill="#000">110</text>
<line x1="416.5" y1="528.7" x2="416.5" y2="520.7" stroke="#000" stroke-width="2"/>
<text x="416.5" y="558" font-size="23" font-weight="bold" text-anchor="middle" fill="#000">160</text>
<line x1="509.3" y1="528.7" x2="509.3" y2="520.7" stroke="#000" stroke-width="2"/>
<text x="509.3" y="558" font-size="23" font-weight="bold" text-anchor="middle" fill="#000">210</text>
<line x1="602.1" y1="528.7" x2="602.1" y2="520.7" stroke="#000" stroke-width="2"/>
<text x="602.1" y="558" font-size="23" font-weight="bold" text-anchor="middle" fill="#000">260</text>
<line x1="119.5" y1="491.7" x2="127.5" y2="491.7" stroke="#000" stroke-width="2"/>
<text x="109.5" y="498.5" font-size="23" font-weight="bold" text-anchor="end" fill="#000">-0.5</text>
<line x1="119.5" y1="398.3" x2="127.5" y2="398.3" stroke="#000" stroke-width="2"/>
<text x="109.5" y="405.1" font-size="23" font-weight="bold" text-anchor="end" fill="#000">0.0</text>
<line x1="119.5" y1="304.9" x2="127.5" y2="304.9" stroke="#000" stroke-width="2"/>
<text x="109.5" y="311.7" font-size="23" font-weight="bold" text-anchor="end" fill="#000">0.5</text>
<line x1="119.5" y1="211.5" x2="127.5" y2="211.5" stroke="#000" stroke-width="2"/>
<text x="109.5" y="218.3" font-size="23" font-weight="bold" text-anchor="end" fill="#000">1.0</text>
<line x1="119.5" y1="118" x2="127.5" y2="118" stroke="#000" stroke-width="2"/>
<text x="109.5" y="124.8" font-size="23" font-weight="bold" text-anchor="end" fill="#000">1.5</text>
<text x="59.8" y="307.3" font-size="38.7" font-weight="bold" text-anchor="middle" fill="#000" transform="rotate(-90 59.8 307.3)">Photocurrent (&#956;A)</text>
<text x="397.8" y="609.5" font-size="38.8" font-weight="bold" text-anchor="middle" fill="#000">Time (sec)</text>
<text x="6.3" y="50.5" font-size="66" font-weight="normal" text-anchor="start" fill="#000">(a)</text>
<pattern id="tex_o" patternUnits="userSpaceOnUse" width="36" height="36"><rect width="36" height="36" fill="#F0B366"/><rect x="0" y="0" width="2" height="2" fill="#D8BE70"/><rect x="2" y="0" width="2" height="2" fill="#D8BE70"/><rect x="8" y="0" width="2" height="2" fill="#D8BE70"/><rect x="14" y="0" width="2" height="2" fill="#D8BE70"/><rect x="18" y="0" width="2" height="2" fill="#D8BE70"/><rect x="20" y="0" width="2" height="2" fill="#D8BE70"/><rect x="32" y="0" width="2" height="2" fill="#D8BE70"/><rect x="2" y="2" width="2" height="2" fill="#D8BE70"/><rect x="4" y="2" width="2" height="2" fill="#D8BE70"/><rect x="8" y="2" width="2" height="2" fill="#D8BE70"/><rect x="10" y="2" width="2" height="2" fill="#D8BE70"/><rect x="20" y="2" width="2" height="2" fill="#D8BE70"/><rect x="24" y="2" width="2" height="2" fill="#D8BE70"/><rect x="26" y="2" width="2" height="2" fill="#D8BE70"/><rect x="32" y="2" width="2" height="2" fill="#D8BE70"/><rect x="0" y="4" width="2" height="2" fill="#D8BE70"/><rect x="6" y="4" width="2" height="2" fill="#D8BE70"/><rect x="22" y="4" width="2" height="2" fill="#D8BE70"/><rect x="26" y="4" width="2" height="2" fill="#D8BE70"/><rect x="30" y="4" width="2" height="2" fill="#D8BE70"/><rect x="34" y="4" width="2" height="2" fill="#D8BE70"/><rect x="2" y="6" width="2" height="2" fill="#D8BE70"/><rect x="6" y="6" width="2" height="2" fill="#D8BE70"/><rect x="10" y="6" width="2" height="2" fill="#D8BE70"/><rect x="12" y="6" width="2" height="2" fill="#D8BE70"/><rect x="22" y="6" width="2" height="2" fill="#D8BE70"/><rect x="26" y="6" width="2" height="2" fill="#D8BE70"/><rect x="4" y="8" width="2" height="2" fill="#D8BE70"/><rect x="6" y="8" width="2" height="2" fill="#D8BE70"/><rect x="8" y="8" width="2" height="2" fill="#D8BE70"/><rect x="10" y="8" width="2" height="2" fill="#D8BE70"/><rect x="12" y="8" width="2" height="2" fill="#D8BE70"/><rect x="16" y="8" width="2" height="2" fill="#D8BE70"/><rect x="18" y="8" width="2" height="2" fill="#D8BE70"/><rect x="28" y="8" width="2" height="2" fill="#D8BE70"/><rect x="34" y="8" width="2" height="2" fill="#D8BE70"/><rect x="2" y="10" width="2" height="2" fill="#D8BE70"/><rect x="14" y="10" width="2" height="2" fill="#D8BE70"/><rect x="18" y="10" width="2" height="2" fill="#D8BE70"/><rect x="26" y="10" width="2" height="2" fill="#D8BE70"/><rect x="28" y="10" width="2" height="2" fill="#D8BE70"/><rect x="32" y="10" width="2" height="2" fill="#D8BE70"/><rect x="0" y="12" width="2" height="2" fill="#D8BE70"/><rect x="2" y="12" width="2" height="2" fill="#D8BE70"/><rect x="6" y="12" width="2" height="2" fill="#D8BE70"/><rect x="8" y="12" width="2" height="2" fill="#D8BE70"/><rect x="10" y="12" width="2" height="2" fill="#D8BE70"/><rect x="14" y="12" width="2" height="2" fill="#D8BE70"/><rect x="34" y="12" width="2" height="2" fill="#D8BE70"/><rect x="2" y="14" width="2" height="2" fill="#D8BE70"/><rect x="4" y="14" width="2" height="2" fill="#D8BE70"/><rect x="8" y="14" width="2" height="2" fill="#D8BE70"/><rect x="14" y="14" width="2" height="2" fill="#D8BE70"/><rect x="18" y="14" width="2" height="2" fill="#D8BE70"/><rect x="22" y="14" width="2" height="2" fill="#D8BE70"/><rect x="24" y="14" width="2" height="2" fill="#D8BE70"/><rect x="28" y="14" width="2" height="2" fill="#D8BE70"/><rect x="32" y="14" width="2" height="2" fill="#D8BE70"/><rect x="34" y="14" width="2" height="2" fill="#D8BE70"/><rect x="2" y="16" width="2" height="2" fill="#D8BE70"/><rect x="4" y="16" width="2" height="2" fill="#D8BE70"/><rect x="6" y="16" width="2" height="2" fill="#D8BE70"/><rect x="8" y="16" width="2" height="2" fill="#D8BE70"/><rect x="10" y="16" width="2" height="2" fill="#D8BE70"/><rect x="16" y="16" width="2" height="2" fill="#D8BE70"/><rect x="18" y="16" width="2" height="2" fill="#D8BE70"/><rect x="26" y="16" width="2" height="2" fill="#D8BE70"/><rect x="32" y="16" width="2" height="2" fill="#D8BE70"/><rect x="0" y="18" width="2" height="2" fill="#D8BE70"/><rect x="8" y="18" width="2" height="2" fill="#D8BE70"/><rect x="10" y="18" width="2" height="2" fill="#D8BE70"/><rect x="12" y="18" width="2" height="2" fill="#D8BE70"/><rect x="16" y="18" width="2" height="2" fill="#D8BE70"/><rect x="20" y="18" width="2" height="2" fill="#D8BE70"/><rect x="22" y="18" width="2" height="2" fill="#D8BE70"/><rect x="26" y="18" width="2" height="2" fill="#D8BE70"/><rect x="28" y="18" width="2" height="2" fill="#D8BE70"/><rect x="2" y="20" width="2" height="2" fill="#D8BE70"/><rect x="12" y="20" width="2" height="2" fill="#D8BE70"/><rect x="14" y="20" width="2" height="2" fill="#D8BE70"/><rect x="34" y="20" width="2" height="2" fill="#D8BE70"/><rect x="8" y="22" width="2" height="2" fill="#D8BE70"/><rect x="18" y="22" width="2" height="2" fill="#D8BE70"/><rect x="20" y="22" width="2" height="2" fill="#D8BE70"/><rect x="24" y="22" width="2" height="2" fill="#D8BE70"/><rect x="32" y="22" width="2" height="2" fill="#D8BE70"/><rect x="34" y="22" width="2" height="2" fill="#D8BE70"/><rect x="2" y="24" width="2" height="2" fill="#D8BE70"/><rect x="4" y="24" width="2" height="2" fill="#D8BE70"/><rect x="6" y="24" width="2" height="2" fill="#D8BE70"/><rect x="10" y="24" width="2" height="2" fill="#D8BE70"/><rect x="18" y="24" width="2" height="2" fill="#D8BE70"/><rect x="28" y="24" width="2" height="2" fill="#D8BE70"/><rect x="32" y="24" width="2" height="2" fill="#D8BE70"/><rect x="0" y="26" width="2" height="2" fill="#D8BE70"/><rect x="8" y="26" width="2" height="2" fill="#D8BE70"/><rect x="14" y="26" width="2" height="2" fill="#D8BE70"/><rect x="16" y="26" width="2" height="2" fill="#D8BE70"/><rect x="28" y="26" width="2" height="2" fill="#D8BE70"/><rect x="2" y="28" width="2" height="2" fill="#D8BE70"/><rect x="8" y="28" width="2" height="2" fill="#D8BE70"/><rect x="10" y="28" width="2" height="2" fill="#D8BE70"/><rect x="12" y="28" width="2" height="2" fill="#D8BE70"/><rect x="18" y="28" width="2" height="2" fill="#D8BE70"/><rect x="20" y="28" width="2" height="2" fill="#D8BE70"/><rect x="22" y="28" width="2" height="2" fill="#D8BE70"/><rect x="30" y="28" width="2" height="2" fill="#D8BE70"/><rect x="12" y="30" width="2" height="2" fill="#D8BE70"/><rect x="20" y="30" width="2" height="2" fill="#D8BE70"/><rect x="24" y="30" width="2" height="2" fill="#D8BE70"/><rect x="26" y="30" width="2" height="2" fill="#D8BE70"/><rect x="28" y="30" width="2" height="2" fill="#D8BE70"/><rect x="0" y="32" width="2" height="2" fill="#D8BE70"/><rect x="8" y="32" width="2" height="2" fill="#D8BE70"/><rect x="10" y="32" width="2" height="2" fill="#D8BE70"/><rect x="26" y="32" width="2" height="2" fill="#D8BE70"/><rect x="28" y="32" width="2" height="2" fill="#D8BE70"/><rect x="32" y="32" width="2" height="2" fill="#D8BE70"/><rect x="2" y="34" width="2" height="2" fill="#D8BE70"/><rect x="4" y="34" width="2" height="2" fill="#D8BE70"/><rect x="6" y="34" width="2" height="2" fill="#D8BE70"/><rect x="8" y="34" width="2" height="2" fill="#D8BE70"/><rect x="16" y="34" width="2" height="2" fill="#D8BE70"/><rect x="20" y="34" width="2" height="2" fill="#D8BE70"/><rect x="24" y="34" width="2" height="2" fill="#D8BE70"/><rect x="28" y="34" width="2" height="2" fill="#D8BE70"/></pattern>
<pattern id="tex_g" patternUnits="userSpaceOnUse" width="36" height="36"><rect width="36" height="36" fill="#AECB26"/><rect x="6" y="0" width="2" height="2" fill="#A6C445"/><rect x="8" y="0" width="2" height="2" fill="#A6C445"/><rect x="14" y="0" width="2" height="2" fill="#A6C445"/><rect x="16" y="0" width="2" height="2" fill="#A6C445"/><rect x="22" y="0" width="2" height="2" fill="#A6C445"/><rect x="2" y="2" width="2" height="2" fill="#A6C445"/><rect x="6" y="2" width="2" height="2" fill="#A6C445"/><rect x="10" y="2" width="2" height="2" fill="#A6C445"/><rect x="16" y="2" width="2" height="2" fill="#A6C445"/><rect x="22" y="2" width="2" height="2" fill="#A6C445"/><rect x="26" y="2" width="2" height="2" fill="#A6C445"/><rect x="32" y="2" width="2" height="2" fill="#A6C445"/><rect x="34" y="2" width="2" height="2" fill="#A6C445"/><rect x="2" y="4" width="2" height="2" fill="#A6C445"/><rect x="4" y="4" width="2" height="2" fill="#A6C445"/><rect x="12" y="4" width="2" height="2" fill="#A6C445"/><rect x="14" y="4" width="2" height="2" fill="#A6C445"/><rect x="22" y="4" width="2" height="2" fill="#A6C445"/><rect x="24" y="4" width="2" height="2" fill="#A6C445"/><rect x="28" y="4" width="2" height="2" fill="#A6C445"/><rect x="6" y="6" width="2" height="2" fill="#A6C445"/><rect x="16" y="6" width="2" height="2" fill="#A6C445"/><rect x="20" y="6" width="2" height="2" fill="#A6C445"/><rect x="30" y="6" width="2" height="2" fill="#A6C445"/><rect x="14" y="8" width="2" height="2" fill="#A6C445"/><rect x="28" y="8" width="2" height="2" fill="#A6C445"/><rect x="32" y="8" width="2" height="2" fill="#A6C445"/><rect x="6" y="10" width="2" height="2" fill="#A6C445"/><rect x="10" y="10" width="2" height="2" fill="#A6C445"/><rect x="14" y="10" width="2" height="2" fill="#A6C445"/><rect x="18" y="10" width="2" height="2" fill="#A6C445"/><rect x="24" y="10" width="2" height="2" fill="#A6C445"/><rect x="28" y="10" width="2" height="2" fill="#A6C445"/><rect x="34" y="10" width="2" height="2" fill="#A6C445"/><rect x="2" y="12" width="2" height="2" fill="#A6C445"/><rect x="6" y="12" width="2" height="2" fill="#A6C445"/><rect x="8" y="12" width="2" height="2" fill="#A6C445"/><rect x="10" y="12" width="2" height="2" fill="#A6C445"/><rect x="12" y="12" width="2" height="2" fill="#A6C445"/><rect x="26" y="12" width="2" height="2" fill="#A6C445"/><rect x="6" y="14" width="2" height="2" fill="#A6C445"/><rect x="8" y="14" width="2" height="2" fill="#A6C445"/><rect x="10" y="14" width="2" height="2" fill="#A6C445"/><rect x="12" y="14" width="2" height="2" fill="#A6C445"/><rect x="14" y="14" width="2" height="2" fill="#A6C445"/><rect x="16" y="14" width="2" height="2" fill="#A6C445"/><rect x="18" y="14" width="2" height="2" fill="#A6C445"/><rect x="24" y="14" width="2" height="2" fill="#A6C445"/><rect x="4" y="16" width="2" height="2" fill="#A6C445"/><rect x="8" y="16" width="2" height="2" fill="#A6C445"/><rect x="18" y="16" width="2" height="2" fill="#A6C445"/><rect x="22" y="16" width="2" height="2" fill="#A6C445"/><rect x="24" y="16" width="2" height="2" fill="#A6C445"/><rect x="32" y="16" width="2" height="2" fill="#A6C445"/><rect x="14" y="18" width="2" height="2" fill="#A6C445"/><rect x="20" y="18" width="2" height="2" fill="#A6C445"/><rect x="28" y="18" width="2" height="2" fill="#A6C445"/><rect x="32" y="18" width="2" height="2" fill="#A6C445"/><rect x="34" y="18" width="2" height="2" fill="#A6C445"/><rect x="0" y="20" width="2" height="2" fill="#A6C445"/><rect x="2" y="20" width="2" height="2" fill="#A6C445"/><rect x="6" y="20" width="2" height="2" fill="#A6C445"/><rect x="10" y="20" width="2" height="2" fill="#A6C445"/><rect x="12" y="20" width="2" height="2" fill="#A6C445"/><rect x="14" y="20" width="2" height="2" fill="#A6C445"/><rect x="24" y="20" width="2" height="2" fill="#A6C445"/><rect x="30" y="20" width="2" height="2" fill="#A6C445"/><rect x="34" y="20" width="2" height="2" fill="#A6C445"/><rect x="0" y="22" width="2" height="2" fill="#A6C445"/><rect x="2" y="22" width="2" height="2" fill="#A6C445"/><rect x="4" y="22" width="2" height="2" fill="#A6C445"/><rect x="10" y="22" width="2" height="2" fill="#A6C445"/><rect x="12" y="22" width="2" height="2" fill="#A6C445"/><rect x="14" y="22" width="2" height="2" fill="#A6C445"/><rect x="16" y="22" width="2" height="2" fill="#A6C445"/><rect x="26" y="22" width="2" height="2" fill="#A6C445"/><rect x="32" y="22" width="2" height="2" fill="#A6C445"/><rect x="4" y="24" width="2" height="2" fill="#A6C445"/><rect x="10" y="24" width="2" height="2" fill="#A6C445"/><rect x="32" y="24" width="2" height="2" fill="#A6C445"/><rect x="34" y="24" width="2" height="2" fill="#A6C445"/><rect x="0" y="26" width="2" height="2" fill="#A6C445"/><rect x="2" y="26" width="2" height="2" fill="#A6C445"/><rect x="8" y="26" width="2" height="2" fill="#A6C445"/><rect x="10" y="26" width="2" height="2" fill="#A6C445"/><rect x="14" y="26" width="2" height="2" fill="#A6C445"/><rect x="20" y="26" width="2" height="2" fill="#A6C445"/><rect x="26" y="26" width="2" height="2" fill="#A6C445"/><rect x="28" y="26" width="2" height="2" fill="#A6C445"/><rect x="34" y="26" width="2" height="2" fill="#A6C445"/><rect x="2" y="28" width="2" height="2" fill="#A6C445"/><rect x="8" y="28" width="2" height="2" fill="#A6C445"/><rect x="12" y="28" width="2" height="2" fill="#A6C445"/><rect x="20" y="28" width="2" height="2" fill="#A6C445"/><rect x="22" y="28" width="2" height="2" fill="#A6C445"/><rect x="32" y="28" width="2" height="2" fill="#A6C445"/><rect x="0" y="30" width="2" height="2" fill="#A6C445"/><rect x="16" y="30" width="2" height="2" fill="#A6C445"/><rect x="18" y="30" width="2" height="2" fill="#A6C445"/><rect x="26" y="30" width="2" height="2" fill="#A6C445"/><rect x="0" y="32" width="2" height="2" fill="#A6C445"/><rect x="4" y="32" width="2" height="2" fill="#A6C445"/><rect x="6" y="32" width="2" height="2" fill="#A6C445"/><rect x="14" y="32" width="2" height="2" fill="#A6C445"/><rect x="22" y="32" width="2" height="2" fill="#A6C445"/><rect x="26" y="32" width="2" height="2" fill="#A6C445"/><rect x="30" y="32" width="2" height="2" fill="#A6C445"/><rect x="32" y="32" width="2" height="2" fill="#A6C445"/><rect x="34" y="32" width="2" height="2" fill="#A6C445"/><rect x="0" y="34" width="2" height="2" fill="#A6C445"/><rect x="4" y="34" width="2" height="2" fill="#A6C445"/><rect x="8" y="34" width="2" height="2" fill="#A6C445"/><rect x="10" y="34" width="2" height="2" fill="#A6C445"/><rect x="12" y="34" width="2" height="2" fill="#A6C445"/><rect x="18" y="34" width="2" height="2" fill="#A6C445"/><rect x="22" y="34" width="2" height="2" fill="#A6C445"/><rect x="24" y="34" width="2" height="2" fill="#A6C445"/><rect x="28" y="34" width="2" height="2" fill="#A6C445"/></pattern>
<rect x="848" y="121.5" width="103.2" height="407.5" fill="url(#tex_o)" stroke="#1a1a1a" stroke-width="2.2"/>
<rect x="977" y="215.8" width="102.7" height="313.2" fill="url(#tex_g)" stroke="#1a1a1a" stroke-width="2.2"/>
<rect x="1105" y="265.2" width="103.3" height="263.8" fill="#64B4FF" stroke="#1a1a1a" stroke-width="2.2"/>
<rect x="1234" y="376" width="103" height="153" fill="#B4B4DA" stroke="#1a1a1a" stroke-width="2.2"/>
<rect x="814" y="80" width="557.6" height="449" fill="none" stroke="#000" stroke-width="2.4" stroke-linejoin="round"/>
<line x1="814" y1="529" x2="822" y2="529" stroke="#000" stroke-width="2"/>
<text x="803.5" y="536.8" font-size="23" font-weight="bold" text-anchor="end" fill="#000">0</text>
<line x1="814" y1="459.9" x2="822" y2="459.9" stroke="#000" stroke-width="2"/>
<text x="803.5" y="467.7" font-size="23" font-weight="bold" text-anchor="end" fill="#000">2</text>
<line x1="814" y1="390.9" x2="822" y2="390.9" stroke="#000" stroke-width="2"/>
<text x="803.5" y="398.7" font-size="23" font-weight="bold" text-anchor="end" fill="#000">4</text>
<line x1="814" y1="321.8" x2="822" y2="321.8" stroke="#000" stroke-width="2"/>
<text x="803.5" y="329.6" font-size="23" font-weight="bold" text-anchor="end" fill="#000">6</text>
<line x1="814" y1="252.7" x2="822" y2="252.7" stroke="#000" stroke-width="2"/>
<text x="803.5" y="260.5" font-size="23" font-weight="bold" text-anchor="end" fill="#000">8</text>
<line x1="814" y1="183.7" x2="822" y2="183.7" stroke="#000" stroke-width="2"/>
<text x="803.5" y="191.5" font-size="23" font-weight="bold" text-anchor="end" fill="#000">10</text>
<line x1="814" y1="114.6" x2="822" y2="114.6" stroke="#000" stroke-width="2"/>
<text x="803.5" y="122.4" font-size="23" font-weight="bold" text-anchor="end" fill="#000">12</text>
<line x1="899.6" y1="529" x2="899.6" y2="534" stroke="#000" stroke-width="2"/>
<text x="899.6" y="557" font-size="23" font-weight="bold" text-anchor="middle" fill="#000">510</text>
<line x1="1028.3" y1="529" x2="1028.3" y2="534" stroke="#000" stroke-width="2"/>
<text x="1028.3" y="557" font-size="23" font-weight="bold" text-anchor="middle" fill="#000">480</text>
<line x1="1156.7" y1="529" x2="1156.7" y2="534" stroke="#000" stroke-width="2"/>
<text x="1156.7" y="557" font-size="23" font-weight="bold" text-anchor="middle" fill="#000">450</text>
<line x1="1285.5" y1="529" x2="1285.5" y2="534" stroke="#000" stroke-width="2"/>
<text x="1285.5" y="557" font-size="23" font-weight="bold" text-anchor="middle" fill="#000">420</text>
<text x="753.2" y="299.5" font-size="38.5" font-weight="bold" text-anchor="middle" fill="#000" transform="rotate(-90 753.2 299.5)">Responsivity&#160;&#160;(mA / W)</text>
<text x="1092.3" y="607.5" font-size="38.5" font-weight="bold" text-anchor="middle" fill="#000">Wavelength (nm)</text>
<text x="696.9" y="51" font-size="66" font-weight="normal" text-anchor="start" fill="#000">(b)</text>
<clipPath id="cc"><rect x="1503.7" y="80" width="556.3" height="449"/></clipPath>
<rect x="1517.7" y="80" width="92.8" height="449" fill="#FEF8E5" stroke="none" stroke-width="0"/>
<line x1="1517.7" y1="82" x2="1517.7" y2="527" stroke="#c8c8c8" stroke-width="1.2" stroke-dasharray="3 3"/>
<line x1="1610.5" y1="82" x2="1610.5" y2="527" stroke="#c8c8c8" stroke-width="1.2" stroke-dasharray="3 3"/>
<rect x="1707.3" y="80" width="93.3" height="449" fill="#FEF8E5" stroke="none" stroke-width="0"/>
<line x1="1707.3" y1="82" x2="1707.3" y2="527" stroke="#c8c8c8" stroke-width="1.2" stroke-dasharray="3 3"/>
<line x1="1800.7" y1="82" x2="1800.7" y2="527" stroke="#c8c8c8" stroke-width="1.2" stroke-dasharray="3 3"/>
<rect x="1892" y="80" width="97.8" height="449" fill="#FEF8E5" stroke="none" stroke-width="0"/>
<line x1="1892" y1="82" x2="1892" y2="527" stroke="#c8c8c8" stroke-width="1.2" stroke-dasharray="3 3"/>
<line x1="1989.8" y1="82" x2="1989.8" y2="527" stroke="#c8c8c8" stroke-width="1.2" stroke-dasharray="3 3"/>
<path d="M1503.0 258.9 L1519.1 258.9 L1525.2 129.4 L1533.8 146.3 L1545.0 164.3 L1560.8 195.8 L1572.1 218.3 L1585.6 247.6 L1596.8 270.1 L1610.3 293.8 L1617.1 311.8 L1622.7 352.3 L1635.1 352.3 L1646.4 345.6 L1655.4 337.7 L1664.4 333.2 L1677.9 320.8 L1684.6 316.3 L1695.9 305.0 L1702.7 297.2 L1709.2 281.6 L1714.8 163.4 L1721.4 172.5 L1727.0 184.9 L1732.7 201.8 L1745.0 226.6 L1751.8 242.3 L1758.5 254.7 L1767.6 278.3 L1778.8 303.1 L1790.1 327.9 L1800.2 351.5 L1805.8 392.1 L1812.6 400.0 L1821.6 398.8 L1837.4 395.4 L1846.4 390.9 L1857.6 384.2 L1868.9 377.4 L1880.1 370.7 L1886.9 363.9 L1892.8 355.4 L1898.8 234.6 L1906.7 247.2 L1915.1 261.8 L1923.5 280.6 L1931.8 299.4 L1940.2 320.4 L1948.5 330.8 L1959.0 351.7 L1971.5 376.8 L1982.0 393.5 L1990.4 409.2 L1996.6 451.0 L2002.9 459.4 L2013.4 462.5 L2025.9 459.4 L2044.7 450.0 L2061.0 440.8" fill="none" stroke="#A855F7" stroke-width="4.0" stroke-linejoin="round" stroke-linecap="round" clip-path="url(#cc)"/>
<line x1="1522.7" y1="95.5" x2="1573.3" y2="95.5" stroke="#A855F7" stroke-width="4.6" stroke-linecap="round"/>
<text x="1579.3" y="103.9" font-size="23.3" font-weight="bold" text-anchor="start" fill="#000">390 nm</text>
<rect x="1986.4" y="84" width="70.5" height="29" fill="#FEF8E5" stroke="#000" stroke-width="2.3"/>
<rect x="1986.4" y="114.2" width="70.5" height="30" fill="#fff" stroke="#000" stroke-width="2.3"/>
<text x="2021.7" y="106.6" font-size="26.3" font-weight="bold" text-anchor="middle" fill="#000">Light</text>
<text x="2021.7" y="138.4" font-size="26.3" font-weight="bold" text-anchor="middle" fill="#000">Dark</text>
<rect x="1503.7" y="80" width="556.3" height="449" fill="none" stroke="#000" stroke-width="2.4" stroke-linejoin="round"/>
<line x1="1523.2" y1="529" x2="1523.2" y2="521" stroke="#000" stroke-width="2"/>
<text x="1523.2" y="558" font-size="23" font-weight="bold" text-anchor="middle" fill="#000">10</text>
<line x1="1615.5" y1="529" x2="1615.5" y2="521" stroke="#000" stroke-width="2"/>
<text x="1615.5" y="558" font-size="23" font-weight="bold" text-anchor="middle" fill="#000">60</text>
<line x1="1708.3" y1="529" x2="1708.3" y2="521" stroke="#000" stroke-width="2"/>
<text x="1708.3" y="558" font-size="23" font-weight="bold" text-anchor="middle" fill="#000">110</text>
<line x1="1800.7" y1="529" x2="1800.7" y2="521" stroke="#000" stroke-width="2"/>
<text x="1800.7" y="558" font-size="23" font-weight="bold" text-anchor="middle" fill="#000">160</text>
<line x1="1894" y1="529" x2="1894" y2="521" stroke="#000" stroke-width="2"/>
<text x="1894" y="558" font-size="23" font-weight="bold" text-anchor="middle" fill="#000">210</text>
<line x1="1987.8" y1="529" x2="1987.8" y2="521" stroke="#000" stroke-width="2"/>
<text x="1987.8" y="558" font-size="23" font-weight="bold" text-anchor="middle" fill="#000">260</text>
<line x1="1503.7" y1="79.3" x2="1511.7" y2="79.3" stroke="#000" stroke-width="2"/>
<text x="1493.5" y="86.1" font-size="23" font-weight="bold" text-anchor="end" fill="#000">1.0</text>
<line x1="1503.7" y1="169.2" x2="1511.7" y2="169.2" stroke="#000" stroke-width="2"/>
<text x="1493.5" y="176" font-size="23" font-weight="bold" text-anchor="end" fill="#000">0.5</text>
<line x1="1503.7" y1="259" x2="1511.7" y2="259" stroke="#000" stroke-width="2"/>
<text x="1493.5" y="265.8" font-size="23" font-weight="bold" text-anchor="end" fill="#000">0.0</text>
<line x1="1503.7" y1="348.9" x2="1511.7" y2="348.9" stroke="#000" stroke-width="2"/>
<text x="1493.5" y="355.7" font-size="23" font-weight="bold" text-anchor="end" fill="#000">-0.5</text>
<line x1="1503.7" y1="438.7" x2="1511.7" y2="438.7" stroke="#000" stroke-width="2"/>
<text x="1493.5" y="445.5" font-size="23" font-weight="bold" text-anchor="end" fill="#000">-1.0</text>
<line x1="1503.7" y1="528.5" x2="1511.7" y2="528.5" stroke="#000" stroke-width="2"/>
<text x="1493.5" y="535.3" font-size="23" font-weight="bold" text-anchor="end" fill="#000">-1.5</text>
<text x="1444.8" y="307.3" font-size="38.7" font-weight="bold" text-anchor="middle" fill="#000" transform="rotate(-90 1444.8 307.3)">Photocurrent (&#956;A)</text>
<text x="1761.5" y="609.5" font-size="40.7" font-weight="bold" text-anchor="middle" fill="#000">Time (sec)</text>
<text x="1391.6" y="51" font-size="66" font-weight="normal" text-anchor="start" fill="#000">(c)</text>
<clipPath id="cd1"><rect x="118.7" y="698.7" width="158.5" height="448.9"/></clipPath>
<rect x="197.9" y="698.7" width="79.3" height="448.9" fill="#FEF8E5" stroke="none" stroke-width="0"/>
<line x1="197.9" y1="700.7" x2="197.9" y2="1145.6" stroke="#c8c8c8" stroke-width="1.2" stroke-dasharray="3 3"/>
<path d="M128.5 848.0 L135.0 846.5 L140.0 847.5 L150.0 845.5 L160.0 846.0 L170.0 846.0 L180.0 845.5 L190.0 845.0 L196.5 844.0 L198.2 843.5 L207.8 709.8 L214.6 728.3 L221.0 750.8 L230.7 784.6 L241.9 821.6 L254.0 879.5 L265.0 935.0 L278.0 1002.0" fill="none" stroke="#4A66FF" stroke-width="4.0" stroke-linejoin="round" stroke-linecap="round" clip-path="url(#cd1)"/>
<path d="M128.5 849.5 L135.0 848.5 L140.0 849.5 L150.0 848.5 L160.0 849.0 L170.0 848.5 L180.0 848.0 L190.0 848.0 L198.2 848.0 L207.8 813.5 L210.5 820.0 L215.4 828.0 L219.4 848.9 L225.8 880.0 L240.5 970.7 L253.0 1058.0 L266.0 1150.0" fill="none" stroke="#A6DDFB" stroke-width="4.0" stroke-linejoin="round" stroke-linecap="round" clip-path="url(#cd1)"/>
<line x1="125.5" y1="1102" x2="178.9" y2="1102" stroke="#4A66FF" stroke-width="4.6" stroke-linecap="round"/>
<text x="185" y="1110.4" font-size="23.3" font-weight="bold" text-anchor="start" fill="#000">360 nm</text>
<line x1="125.5" y1="1129.3" x2="178.9" y2="1129.3" stroke="#A6DDFB" stroke-width="4.6" stroke-linecap="round"/>
<text x="185" y="1137.7" font-size="23.3" font-weight="bold" text-anchor="start" fill="#000">330 nm</text>
<rect x="118.7" y="698.7" width="158.5" height="448.9" fill="none" stroke="#000" stroke-width="2.4" stroke-linejoin="round"/>
<line x1="118.7" y1="700.2" x2="123.7" y2="700.2" stroke="#000" stroke-width="2"/>
<text x="108.5" y="707" font-size="23" font-weight="bold" text-anchor="end" fill="#000">0.5</text>
<line x1="118.7" y1="849.5" x2="123.7" y2="849.5" stroke="#000" stroke-width="2"/>
<text x="108.5" y="856.3" font-size="23" font-weight="bold" text-anchor="end" fill="#000">0.0</text>
<line x1="118.7" y1="998.8" x2="123.7" y2="998.8" stroke="#000" stroke-width="2"/>
<text x="108.5" y="1005.6" font-size="23" font-weight="bold" text-anchor="end" fill="#000">-0.5</text>
<line x1="118.7" y1="1148.1" x2="123.7" y2="1148.1" stroke="#000" stroke-width="2"/>
<text x="108.5" y="1154.9" font-size="23" font-weight="bold" text-anchor="end" fill="#000">-1.0</text>
<line x1="118.7" y1="1147.6" x2="118.7" y2="1142.6" stroke="#000" stroke-width="2"/>
<text x="118.7" y="1169.5" font-size="23" font-weight="bold" text-anchor="middle" fill="#000">0</text>
<line x1="197.9" y1="1147.6" x2="197.9" y2="1142.6" stroke="#000" stroke-width="2"/>
<text x="197.9" y="1169.5" font-size="23" font-weight="bold" text-anchor="middle" fill="#000">10</text>
<line x1="277.2" y1="1147.6" x2="277.2" y2="1142.6" stroke="#000" stroke-width="2"/>
<text x="277.2" y="1169.5" font-size="23" font-weight="bold" text-anchor="middle" fill="#000">20</text>
<clipPath id="cd2"><rect x="358.1" y="698.7" width="318.1" height="448.9"/></clipPath>
<rect x="358.1" y="698.7" width="18.8" height="448.9" fill="#FEF8E5" stroke="none" stroke-width="0"/>
<line x1="376.9" y1="700.7" x2="376.9" y2="1145.6" stroke="#c8c8c8" stroke-width="1.2" stroke-dasharray="3 3"/>
<path d="M360.6 725.2 L362.4 764.0 L369.8 875.0 L377.2 1008.3 L377.2 1008.3 L378.2 1000.9 L379.2 993.5 L380.2 986.9 L381.2 979.5 L382.2 974.8 L383.2 969.4 L384.2 965.4 L385.2 959.6 L386.3 956.4 L387.3 952.5 L388.3 948.4 L389.3 945.6 L390.3 943.4 L391.3 939.7 L392.3 936.7 L393.3 934.8 L394.3 932.2 L395.3 929.7 L396.3 926.3 L397.3 924.3 L398.3 922.5 L399.3 919.3 L400.3 917.0 L401.3 915.6 L402.4 913.8 L403.4 910.3 L404.4 907.6 L405.4 906.1 L406.4 904.4 L407.4 902.9 L408.4 901.4 L409.4 899.2 L410.4 897.1 L411.4 895.8 L412.4 893.5 L413.4 892.2 L414.4 890.2 L415.4 890.2 L416.4 887.7 L417.4 885.3 L418.4 883.6 L419.5 882.4 L420.5 880.3 L421.5 879.3 L422.5 877.9 L423.5 877.4 L424.5 875.4 L425.5 874.0 L426.5 872.4 L427.5 871.3 L428.5 870.7 L429.5 869.4 L430.5 869.0 L431.5 867.0 L432.5 866.7 L433.5 865.2 L434.5 864.1 L435.6 862.0 L436.6 861.3 L437.6 861.3 L438.6 860.6 L439.6 859.0 L440.6 858.3 L441.6 856.7 L442.6 855.8 L443.6 854.6 L444.6 854.5 L445.6 853.2 L446.6 852.0 L447.6 851.0 L448.6 850.5 L449.6 849.5 L450.6 848.0 L451.6 848.4 L452.7 846.8 L453.7 845.8 L454.7 845.7 L455.7 844.7 L456.7 843.3 L457.7 842.8 L458.7 841.2 L459.7 840.6 L460.7 839.1 L461.7 840.0 L462.7 837.8 L463.7 838.3 L464.7 836.9 L465.7 836.1 L466.7 835.8 L467.7 835.3 L468.7 834.8 L469.8 834.7 L470.8 833.3 L471.8 832.9 L472.8 831.5 L473.8 831.5 L474.8 830.5 L475.8 829.5 L476.8 829.0 L477.8 828.4 L478.8 827.8 L479.8 827.2 L480.8 826.0 L481.8 825.2 L482.8 825.2 L483.8 823.3 L484.8 823.2 L485.9 823.5 L486.9 820.7 L487.9 821.0 L488.9 821.0 L489.9 819.1 L490.9 820.5 L491.9 817.2 L492.9 818.6 L493.9 817.9 L494.9 816.9 L495.9 815.6 L496.9 815.2 L497.9 813.9 L498.9 814.1 L499.9 812.5 L500.9 812.2 L501.9 812.2 L503.0 810.4 L504.0 810.2 L505.0 809.8 L506.0 808.4 L507.0 809.0 L508.0 807.9 L509.0 806.4 L510.0 806.5 L511.0 805.5 L512.0 804.9 L513.0 804.7 L514.0 803.7 L515.0 803.9 L516.0 802.4 L517.0 802.7 L518.0 801.6 L519.1 801.4 L520.1 800.1 L521.1 799.6 L522.1 798.6 L523.1 798.9 L524.1 798.5 L525.1 798.5 L526.1 797.5 L527.1 796.4 L528.1 795.6 L529.1 795.3 L530.1 794.5 L531.1 794.7 L532.1 793.9 L533.1 792.4 L534.1 791.9 L535.1 792.4 L536.2 791.3 L537.2 790.5 L538.2 790.6 L539.2 789.3 L540.2 788.8 L541.2 788.1 L542.2 786.7 L543.2 787.5 L544.2 785.9 L545.2 785.6 L546.2 784.9 L547.2 784.9 L548.2 783.9 L549.2 783.2 L550.2 781.6 L551.2 781.7 L552.3 780.2 L553.3 780.3 L554.3 779.6 L555.3 778.6 L556.3 778.8 L557.3 777.3 L558.3 776.5 L559.3 775.5 L560.3 774.6 L561.3 774.5 L562.3 773.8 L563.3 772.0 L564.3 772.5 L565.3 771.5 L566.3 771.1 L567.3 770.2 L568.3 768.7 L569.4 768.1 L570.4 768.9 L571.4 767.5 L572.4 766.0 L573.4 766.3 L574.4 765.4 L575.4 764.1 L576.4 763.3 L577.4 763.1 L578.4 763.5 L579.4 762.8 L580.4 762.2 L581.4 762.1 L582.4 761.8 L583.4 760.0 L584.4 760.5 L585.5 759.8 L586.5 759.2 L587.5 759.1 L588.5 759.0 L589.5 758.5 L590.5 757.6 L591.5 757.7 L592.5 758.6 L593.5 756.7 L594.5 756.1 L595.5 756.7 L596.5 756.6 L597.5 756.2 L598.5 755.1 L599.5 755.8 L600.5 754.6 L601.5 754.1 L602.6 754.1 L603.6 754.0 L604.6 754.2 L605.6 753.8 L606.6 753.2 L607.6 753.4 L608.6 752.7 L609.6 752.8 L610.6 751.4 L611.6 751.0 L612.6 751.9 L613.6 750.6 L614.6 750.9 L615.6 750.7 L616.6 750.3 L617.6 750.0 L618.6 750.7 L619.7 748.5 L620.7 749.9 L621.7 750.4 L622.7 749.0 L623.7 748.8 L624.7 748.9 L625.7 749.2 L626.7 747.5 L627.7 747.9 L628.7 747.5 L629.7 747.6 L630.7 747.2 L631.7 747.2 L632.7 746.4 L633.7 746.4 L634.7 745.9 L635.8 745.6 L636.8 745.7 L637.8 745.4 L638.8 744.7 L639.8 745.8 L640.8 744.8 L641.8 743.9 L642.8 744.9 L643.8 743.8 L644.8 744.2 L645.8 743.7 L646.8 743.6 L647.8 743.4 L648.8 742.8 L649.8 742.9 L650.8 743.6 L651.8 741.3 L652.9 742.2 L653.9 742.2 L654.9 741.3 L655.9 740.9 L656.9 742.4 L657.9 741.0 L658.9 742.0 L659.9 741.0 L660.9 740.6 L661.9 740.6 L662.9 740.5 L663.9 740.5 L664.9 740.0 L665.9 739.6 L666.9 739.5 L667.9 739.8 L669.0 739.4 L670.0 738.3 L671.0 738.3 L672.0 738.6 L673.0 737.9 L674.0 737.9 L675.0 737.4 L676.0 737.5 L677.0 737.5" fill="none" stroke="#5058F0" stroke-width="4.0" stroke-linejoin="round" stroke-linecap="round" clip-path="url(#cd2)"/>
<path d="M360.6 728.9 L366.1 838.0 L377.2 1115.7 L377.2 1115.7 L378.2 1106.5 L379.2 1097.9 L380.2 1089.0 L381.2 1082.2 L382.2 1073.9 L383.2 1069.1 L384.2 1062.5 L385.2 1057.5 L386.3 1052.8 L387.3 1048.0 L388.3 1046.0 L389.3 1043.0 L390.3 1040.7 L391.3 1035.9 L392.3 1034.3 L393.3 1029.8 L394.3 1026.9 L395.3 1021.9 L396.3 1019.9 L397.3 1016.4 L398.3 1013.7 L399.3 1010.3 L400.3 1006.7 L401.3 1005.0 L402.4 1002.1 L403.4 999.5 L404.4 997.2 L405.4 994.9 L406.4 992.0 L407.4 989.0 L408.4 986.6 L409.4 985.7 L410.4 983.0 L411.4 980.3 L412.4 977.6 L413.4 975.3 L414.4 972.8 L415.4 970.2 L416.4 967.6 L417.4 966.6 L418.4 963.3 L419.5 960.6 L420.5 958.1 L421.5 956.4 L422.5 955.2 L423.5 953.3 L424.5 951.0 L425.5 949.3 L426.5 947.3 L427.5 945.1 L428.5 944.6 L429.5 942.5 L430.5 941.9 L431.5 938.6 L432.5 937.4 L433.5 936.3 L434.5 934.3 L435.6 932.3 L436.6 931.1 L437.6 930.2 L438.6 929.0 L439.6 927.5 L440.6 926.8 L441.6 925.6 L442.6 924.1 L443.6 922.8 L444.6 921.6 L445.6 920.9 L446.6 920.1 L447.6 918.6 L448.6 917.8 L449.6 916.5 L450.6 915.0 L451.6 914.2 L452.7 914.2 L453.7 913.1 L454.7 912.8 L455.7 911.1 L456.7 910.6 L457.7 909.9 L458.7 908.8 L459.7 907.1 L460.7 906.4 L461.7 905.7 L462.7 904.2 L463.7 904.1 L464.7 903.5 L465.7 901.8 L466.7 902.2 L467.7 900.2 L468.7 899.4 L469.8 898.6 L470.8 897.5 L471.8 897.2 L472.8 896.2 L473.8 896.2 L474.8 894.9 L475.8 894.1 L476.8 892.9 L477.8 891.5 L478.8 891.4 L479.8 890.3 L480.8 890.4 L481.8 889.2 L482.8 889.3 L483.8 888.2 L484.8 887.5 L485.9 886.5 L486.9 885.8 L487.9 885.4 L488.9 884.9 L489.9 883.4 L490.9 883.4 L491.9 883.8 L492.9 881.8 L493.9 881.1 L494.9 880.2 L495.9 879.2 L496.9 879.9 L497.9 878.6 L498.9 878.1 L499.9 878.2 L500.9 877.8 L501.9 875.5 L503.0 875.7 L504.0 874.8 L505.0 873.9 L506.0 873.2 L507.0 872.2 L508.0 872.2 L509.0 870.9 L510.0 869.9 L511.0 869.5 L512.0 868.5 L513.0 867.5 L514.0 866.6 L515.0 866.5 L516.0 865.0 L517.0 863.9 L518.0 862.8 L519.1 862.3 L520.1 861.2 L521.1 861.1 L522.1 860.5 L523.1 858.7 L524.1 859.1 L525.1 858.8 L526.1 858.1 L527.1 857.0 L528.1 857.6 L529.1 856.2 L530.1 855.4 L531.1 855.1 L532.1 855.2 L533.1 855.2 L534.1 854.9 L535.1 854.0 L536.2 852.9 L537.2 852.8 L538.2 852.3 L539.2 852.3 L540.2 851.1 L541.2 851.7 L542.2 851.6 L543.2 850.8 L544.2 850.7 L545.2 849.6 L546.2 849.0 L547.2 849.0 L548.2 849.5 L549.2 849.0 L550.2 847.9 L551.2 848.3 L552.3 847.2 L553.3 847.7 L554.3 846.8 L555.3 845.9 L556.3 846.2 L557.3 845.0 L558.3 844.5 L559.3 843.9 L560.3 844.3 L561.3 843.8 L562.3 843.3 L563.3 842.8 L564.3 843.2 L565.3 841.9 L566.3 841.3 L567.3 841.8 L568.3 841.4 L569.4 840.4 L570.4 838.9 L571.4 839.0 L572.4 839.1 L573.4 838.2 L574.4 838.5 L575.4 836.5 L576.4 837.0 L577.4 835.8 L578.4 836.3 L579.4 835.1 L580.4 835.1 L581.4 833.7 L582.4 832.8 L583.4 832.5 L584.4 832.2 L585.5 831.5 L586.5 832.1 L587.5 831.7 L588.5 830.7 L589.5 829.6 L590.5 829.6 L591.5 828.9 L592.5 829.5 L593.5 828.5 L594.5 828.1 L595.5 827.2 L596.5 826.0 L597.5 826.2 L598.5 825.6 L599.5 825.9 L600.5 825.3 L601.5 824.5 L602.6 824.2 L603.6 824.8 L604.6 823.1 L605.6 822.7 L606.6 822.6 L607.6 822.0 L608.6 821.7 L609.6 821.8 L610.6 821.9 L611.6 819.8 L612.6 820.2 L613.6 819.8 L614.6 819.3 L615.6 818.9 L616.6 818.3 L617.6 818.6 L618.6 817.4 L619.7 817.2 L620.7 816.8 L621.7 816.4 L622.7 815.8 L623.7 816.0 L624.7 815.1 L625.7 814.7 L626.7 814.2 L627.7 813.3 L628.7 813.0 L629.7 812.4 L630.7 812.6 L631.7 811.8 L632.7 811.2 L633.7 811.4 L634.7 811.2 L635.8 809.6 L636.8 811.0 L637.8 809.8 L638.8 809.3 L639.8 809.5 L640.8 808.7 L641.8 808.0 L642.8 809.1 L643.8 807.1 L644.8 807.2 L645.8 807.4 L646.8 806.1 L647.8 806.2 L648.8 806.2 L649.8 806.8 L650.8 804.8 L651.8 804.9 L652.9 804.9 L653.9 804.3 L654.9 803.3 L655.9 803.7 L656.9 803.2 L657.9 803.0 L658.9 802.9 L659.9 802.5 L660.9 801.8 L661.9 801.3 L662.9 800.1 L663.9 800.1 L664.9 799.8 L665.9 799.0 L666.9 798.8 L667.9 797.8 L669.0 798.4 L670.0 798.2 L671.0 796.4 L672.0 796.2 L673.0 795.3 L674.0 795.4 L675.0 794.4 L676.0 793.6 L677.0 793.0" fill="none" stroke="#46B4FA" stroke-width="4.0" stroke-linejoin="round" stroke-linecap="round" clip-path="url(#cd2)"/>
<rect x="602.2" y="701.9" width="70.8" height="29.3" fill="#FEF8E5" stroke="#000" stroke-width="2.3"/>
<rect x="602.2" y="732.4" width="70.8" height="29" fill="#fff" stroke="#000" stroke-width="2.3"/>
<text x="637.6" y="724.8" font-size="26.3" font-weight="bold" text-anchor="middle" fill="#000">Light</text>
<text x="637.6" y="755.6" font-size="26.3" font-weight="bold" text-anchor="middle" fill="#000">Dark</text>
<line x1="538.3" y1="1085.4" x2="589.7" y2="1085.4" stroke="#5058F0" stroke-width="4.6" stroke-linecap="round"/>
<text x="596.8" y="1093.8" font-size="23.3" font-weight="bold" text-anchor="start" fill="#000">360 nm</text>
<line x1="538.3" y1="1112.8" x2="589.7" y2="1112.8" stroke="#46B4FA" stroke-width="4.6" stroke-linecap="round"/>
<text x="596.8" y="1121.2" font-size="23.3" font-weight="bold" text-anchor="start" fill="#000">330 nm</text>
<rect x="358.1" y="698.7" width="318.1" height="448.9" fill="none" stroke="#000" stroke-width="2.4" stroke-linejoin="round"/>
<line x1="358.1" y1="732.1" x2="364.1" y2="732.1" stroke="#000" stroke-width="2"/>
<line x1="358.1" y1="859.9" x2="364.1" y2="859.9" stroke="#000" stroke-width="2"/>
<text x="347.5" y="866.7" font-size="23" font-weight="bold" text-anchor="end" fill="#000">-2</text>
<line x1="358.1" y1="987.7" x2="364.1" y2="987.7" stroke="#000" stroke-width="2"/>
<text x="347.5" y="994.5" font-size="23" font-weight="bold" text-anchor="end" fill="#000">-4</text>
<line x1="358.1" y1="1115.5" x2="364.1" y2="1115.5" stroke="#000" stroke-width="2"/>
<text x="347.5" y="1122.3" font-size="23" font-weight="bold" text-anchor="end" fill="#000">-6</text>
<line x1="361" y1="1147.6" x2="361" y2="1140.6" stroke="#000" stroke-width="2"/>
<text x="374.4" y="1177.5" font-size="23" font-weight="bold" text-anchor="middle" fill="#000">10</text>
<text x="671" y="1177.5" font-size="23" font-weight="bold" text-anchor="middle" fill="#000">1000</text>
<rect x="329.8" y="706.5" width="46.6" height="84.8" fill="rgba(255,243,160,0.5)" stroke="#808080" stroke-width="1.6" stroke-dasharray="5 3"/>
<text x="341.8" y="740.5" font-size="24.5" font-weight="bold" text-anchor="middle" fill="#3d3510">0</text>
<path d="M325.9 746.6 L292.1 746.6 L292.1 743.1 L282.4 749.5 L292.1 755.9 L292.1 752.4 L325.9 752.4 Z" fill="#4a4a4a"/>
<text x="59.8" y="922" font-size="38.7" font-weight="bold" text-anchor="middle" fill="#000" transform="rotate(-90 59.8 922)">Photocurrent (&#956;A)</text>
<text x="403.9" y="1227.5" font-size="40.7" font-weight="bold" text-anchor="middle" fill="#000">Time (sec)</text>
<text x="3.5" y="671" font-size="66" font-weight="normal" text-anchor="start" fill="#000">(d)</text>
<clipPath id="ce1"><rect x="814.2" y="698.9" width="557.2" height="182.4"/></clipPath>
<rect x="821.3" y="698.9" width="34" height="182.4" fill="#FEF8E5" stroke="none" stroke-width="0"/>
<line x1="821.3" y1="700.9" x2="821.3" y2="879.3" stroke="#c8c8c8" stroke-width="1.2" stroke-dasharray="3 3"/>
<line x1="855.3" y1="700.9" x2="855.3" y2="879.3" stroke="#c8c8c8" stroke-width="1.2" stroke-dasharray="3 3"/>
<rect x="1006.6" y="698.9" width="35.6" height="182.4" fill="#FEF8E5" stroke="none" stroke-width="0"/>
<line x1="1006.6" y1="700.9" x2="1006.6" y2="879.3" stroke="#c8c8c8" stroke-width="1.2" stroke-dasharray="3 3"/>
<line x1="1042.2" y1="700.9" x2="1042.2" y2="879.3" stroke="#c8c8c8" stroke-width="1.2" stroke-dasharray="3 3"/>
<rect x="1193.5" y="698.9" width="36.1" height="182.4" fill="#FEF8E5" stroke="none" stroke-width="0"/>
<line x1="1193.5" y1="700.9" x2="1193.5" y2="879.3" stroke="#c8c8c8" stroke-width="1.2" stroke-dasharray="3 3"/>
<line x1="1229.6" y1="700.9" x2="1229.6" y2="879.3" stroke="#c8c8c8" stroke-width="1.2" stroke-dasharray="3 3"/>
<path d="M814.8 798.6 L817.2 798.3 L819.7 798.1 L822.1 797.4 L822.1 718.4 L823.7 718.0 L826.1 743.3 L828.5 756.8 L830.9 770.9 L833.3 783.3 L835.7 796.6 L837.9 804.5 L840.0 813.6 L842.2 821.9 L844.3 829.6 L846.5 837.0 L848.6 844.8 L851.0 850.5 L853.5 858.0 L855.9 864.1 L858.3 863.2 L860.7 860.2 L863.1 858.6 L865.2 858.1 L867.4 859.0 L869.5 857.7 L871.5 856.6 L873.5 854.8 L875.6 852.7 L877.6 851.6 L880.0 851.3 L882.4 850.4 L884.8 850.2 L887.2 849.2 L889.6 848.9 L892.0 848.4 L894.5 848.2 L896.9 848.4 L899.3 847.0 L901.8 846.2 L904.2 845.1 L906.6 844.2 L909.0 844.2 L911.4 842.5 L913.8 841.8 L916.2 841.3 L918.2 840.1 L920.2 839.9 L922.3 837.4 L924.3 837.3 L926.3 836.0 L928.3 834.0 L930.3 832.8 L932.3 831.8 L934.4 831.9 L936.6 830.7 L938.7 830.2 L940.7 829.5 L942.8 828.1 L944.8 825.9 L946.8 823.6 L948.9 824.2 L951.1 822.9 L953.2 822.7 L955.4 822.5 L957.5 822.5 L959.7 822.6 L961.8 822.2 L964.0 821.1 L966.1 818.8 L968.2 817.6 L970.4 816.9 L972.5 814.6 L974.7 812.6 L976.9 811.5 L979.0 809.9 L981.0 808.7 L983.0 807.3 L985.0 806.2 L987.0 804.9 L989.1 804.3 L991.3 802.9 L993.5 802.1 L995.6 801.2 L997.8 800.8 L999.9 799.5 L1002.1 799.2 L1004.3 799.2 L1006.5 798.9 L1008.7 799.0 L1008.7 719.2 L1011.5 737.3 L1014.4 754.9 L1016.4 762.4 L1018.4 770.4 L1020.4 778.9 L1022.4 786.8 L1024.4 795.7 L1026.4 804.3 L1028.5 813.3 L1030.5 823.2 L1032.5 832.5 L1034.5 841.6 L1036.9 845.4 L1039.3 850.8 L1041.7 854.8 L1043.9 853.0 L1046.0 850.8 L1048.2 848.2 L1050.3 847.5 L1052.5 846.2 L1054.6 845.8 L1056.7 844.7 L1058.9 844.7 L1061.0 843.7 L1063.4 842.6 L1065.8 841.0 L1068.3 839.2 L1070.7 838.1 L1072.8 836.9 L1075.0 836.3 L1077.2 835.3 L1079.3 833.9 L1081.4 833.3 L1083.6 832.4 L1085.6 831.9 L1087.6 831.9 L1089.6 831.8 L1091.7 830.7 L1093.7 830.3 L1095.7 829.2 L1097.7 829.6 L1099.7 829.0 L1101.8 827.8 L1104.0 828.0 L1106.1 827.4 L1108.2 826.3 L1110.4 825.7 L1112.5 824.9 L1114.7 824.9 L1116.8 823.6 L1119.0 823.5 L1121.1 823.7 L1123.2 822.6 L1125.4 822.2 L1127.5 821.9 L1129.7 821.6 L1131.8 822.0 L1134.2 821.1 L1136.7 819.6 L1139.1 819.0 L1141.5 818.3 L1143.8 817.2 L1146.0 815.1 L1148.3 814.2 L1150.5 812.9 L1152.8 812.7 L1154.9 812.0 L1157.1 811.5 L1159.2 810.4 L1161.3 809.2 L1163.5 808.6 L1165.7 807.5 L1167.8 806.1 L1169.9 805.4 L1172.1 804.5 L1174.1 804.0 L1176.1 803.1 L1178.1 802.3 L1180.1 802.5 L1182.3 801.9 L1184.4 800.9 L1186.6 800.1 L1188.6 799.6 L1190.6 799.7 L1192.6 799.0 L1194.6 798.6 L1194.6 717.1 L1197.8 718.0 L1201.0 743.2 L1203.8 763.7 L1206.7 784.6 L1209.1 793.5 L1211.5 802.6 L1213.9 810.8 L1216.3 821.1 L1218.8 830.5 L1221.2 840.4 L1223.6 842.4 L1226.0 845.1 L1228.4 848.2 L1230.5 846.2 L1232.7 844.8 L1234.8 843.1 L1236.8 841.5 L1238.8 840.0 L1240.9 838.7 L1242.9 837.4 L1245.1 836.4 L1247.2 835.5 L1249.3 834.5 L1251.5 833.2 L1253.7 832.4 L1255.8 831.3 L1257.8 830.4 L1259.8 827.7 L1261.8 826.7 L1263.8 826.0 L1265.9 824.4 L1268.1 823.4 L1270.2 823.0 L1272.4 822.8 L1274.5 821.5 L1276.7 821.1 L1278.8 820.2 L1281.0 819.3 L1283.1 819.8 L1285.2 817.9 L1287.4 816.9 L1289.5 816.1 L1291.7 815.6 L1293.8 814.8 L1296.0 814.2 L1298.1 813.1 L1300.3 811.8 L1302.4 811.7 L1304.8 811.4 L1307.2 811.4 L1309.7 811.0 L1312.1 811.3 L1314.2 809.9 L1316.4 808.8 L1318.5 807.0 L1320.5 807.2 L1322.5 806.9 L1324.5 806.2 L1326.5 806.1 L1328.6 805.7 L1330.6 806.0 L1332.6 804.5 L1334.6 805.0 L1336.8 803.9 L1339.0 803.7 L1341.2 803.6 L1343.4 802.4 L1345.7 802.1 L1347.9 801.1 L1350.1 801.5 L1352.3 800.5 L1354.3 801.0 L1356.3 800.5 L1358.4 801.0 L1360.4 802.2 L1362.6 800.9 L1364.8 800.1 L1367.1 799.5 L1369.3 798.2 L1371.5 797.8" fill="none" stroke="#AFB9FA" stroke-width="4.0" stroke-linejoin="round" stroke-linecap="round" clip-path="url(#ce1)"/>
<line x1="1237.1" y1="713.3" x2="1287.2" y2="713.3" stroke="#AFB9FA" stroke-width="4.6" stroke-linecap="round"/>
<text x="1294" y="721.7" font-size="23.3" font-weight="bold" text-anchor="start" fill="#000">300 nm</text>
<rect x="814.2" y="698.9" width="557.2" height="182.4" fill="none" stroke="#000" stroke-width="2.4" stroke-linejoin="round"/>
<line x1="814.2" y1="715" x2="820.2" y2="715" stroke="#000" stroke-width="2"/>
<text x="804" y="721.8" font-size="23" font-weight="bold" text-anchor="end" fill="#000">0.5</text>
<line x1="814.2" y1="798.1" x2="820.2" y2="798.1" stroke="#000" stroke-width="2"/>
<text x="804" y="804.9" font-size="23" font-weight="bold" text-anchor="end" fill="#000">0.0</text>
<line x1="814.2" y1="881.3" x2="820.2" y2="881.3" stroke="#000" stroke-width="2"/>
<text x="804" y="888.1" font-size="23" font-weight="bold" text-anchor="end" fill="#000">-0.5</text>
<line x1="820.8" y1="881.3" x2="820.8" y2="873.3" stroke="#000" stroke-width="2"/>
<text x="821.2" y="909.5" font-size="23" font-weight="bold" text-anchor="middle" fill="#000">10</text>
<text x="855.7" y="909.5" font-size="23" font-weight="bold" text-anchor="middle" fill="#000">60</text>
<text x="1023.7" y="909.5" font-size="23" font-weight="bold" text-anchor="middle" fill="#000" textLength="76" lengthAdjust="spacingAndGlyphs">280330</text>
<text x="1211.5" y="909.5" font-size="23" font-weight="bold" text-anchor="middle" fill="#000" textLength="76" lengthAdjust="spacingAndGlyphs">550600</text>
<rect x="1299.9" y="893.4" width="71" height="28.4" fill="#FEF8E5" stroke="#000" stroke-width="2.3"/>
<rect x="1299.9" y="923" width="71" height="29.8" fill="#fff" stroke="#000" stroke-width="2.3"/>
<text x="1335.4" y="915.4" font-size="26.3" font-weight="bold" text-anchor="middle" fill="#000">Light</text>
<text x="1335.4" y="947" font-size="26.3" font-weight="bold" text-anchor="middle" fill="#000">Dark</text>
<clipPath id="ce2"><rect x="814.2" y="964.3" width="557.2" height="183"/></clipPath>
<rect x="849" y="964.3" width="174.1" height="183" fill="#FEF8E5" stroke="none" stroke-width="0"/>
<line x1="849" y1="966.3" x2="849" y2="1145.3" stroke="#c8c8c8" stroke-width="1.2" stroke-dasharray="3 3"/>
<line x1="1023.2" y1="966.3" x2="1023.2" y2="1145.3" stroke="#c8c8c8" stroke-width="1.2" stroke-dasharray="3 3"/>
<rect x="1197.3" y="964.3" width="174.1" height="183" fill="#FEF8E5" stroke="none" stroke-width="0"/>
<line x1="1197.3" y1="966.3" x2="1197.3" y2="1145.3" stroke="#c8c8c8" stroke-width="1.2" stroke-dasharray="3 3"/>
<line x1="1371.4" y1="966.3" x2="1371.4" y2="1145.3" stroke="#c8c8c8" stroke-width="1.2" stroke-dasharray="3 3"/>
<path d="M814.5 1144.0 L815.8 1144.4 L817.0 1143.6 L818.2 1143.8 L819.5 1142.7 L820.8 1143.5 L822.0 1142.3 L823.2 1143.5 L824.5 1143.4 L825.8 1143.2 L827.0 1142.8 L828.2 1142.9 L829.5 1140.2 L830.8 1142.9 L832.0 1142.0 L833.2 1142.3 L834.5 1141.9 L835.8 1141.0 L837.0 1141.6 L838.2 1142.5 L839.5 1143.1 L840.8 1141.4 L842.0 1141.2 L843.2 1143.0 L844.5 1141.1 L845.8 1143.4 L847.0 1141.7 L848.6 1139.9 L850.2 1140.4 L851.8 1139.9 L853.1 1136.1 L854.4 1137.2 L855.7 1134.4 L857.0 1134.5 L858.2 1131.7 L859.5 1129.5 L860.8 1129.9 L862.1 1128.9 L863.4 1128.6 L864.7 1127.0 L866.0 1124.9 L867.2 1122.9 L868.5 1121.4 L869.8 1120.3 L871.0 1118.6 L872.3 1117.8 L873.5 1114.7 L874.8 1115.6 L876.1 1114.2 L877.3 1115.0 L878.6 1112.3 L879.9 1110.0 L881.1 1109.6 L882.4 1106.9 L883.6 1106.7 L884.8 1105.0 L886.0 1106.9 L887.2 1105.5 L888.5 1103.3 L889.7 1103.5 L890.9 1103.6 L892.1 1102.5 L893.3 1101.7 L894.5 1100.0 L895.7 1099.4 L896.9 1099.3 L898.1 1099.2 L899.3 1097.1 L900.5 1096.1 L901.8 1097.2 L903.0 1094.8 L904.2 1095.7 L905.4 1094.3 L906.6 1094.1 L907.8 1094.2 L909.0 1092.7 L910.2 1092.1 L911.4 1090.1 L912.6 1089.6 L913.8 1090.0 L915.0 1090.1 L916.2 1089.4 L917.4 1089.4 L918.7 1087.2 L919.9 1086.5 L921.1 1086.5 L922.3 1085.0 L923.5 1084.3 L924.7 1082.9 L925.9 1083.9 L927.1 1081.6 L928.3 1082.2 L929.5 1080.0 L930.7 1081.4 L931.9 1079.4 L933.2 1080.6 L934.4 1078.4 L935.6 1079.0 L936.8 1080.0 L938.1 1078.2 L939.3 1078.6 L940.5 1077.9 L941.8 1076.1 L943.0 1077.9 L944.2 1077.7 L945.5 1076.2 L946.7 1077.3 L947.9 1075.9 L949.1 1075.5 L950.4 1076.0 L951.6 1075.2 L952.9 1077.2 L954.1 1073.7 L955.4 1075.2 L956.6 1075.1 L957.9 1072.3 L959.1 1072.2 L960.4 1073.7 L961.6 1072.5 L962.9 1072.8 L964.2 1072.8 L965.5 1070.9 L966.8 1069.7 L968.1 1067.7 L969.3 1069.4 L970.6 1067.9 L971.9 1068.2 L973.2 1067.5 L974.5 1065.5 L975.8 1067.4 L977.0 1066.5 L978.3 1065.9 L979.5 1063.9 L980.7 1064.2 L982.0 1063.7 L983.2 1063.5 L984.4 1062.5 L985.6 1063.4 L986.9 1062.9 L988.1 1062.6 L989.3 1061.5 L990.6 1062.6 L991.8 1061.4 L993.1 1058.4 L994.3 1059.4 L995.6 1059.3 L996.8 1059.5 L998.1 1057.8 L999.3 1057.3 L1000.6 1056.3 L1001.8 1056.8 L1003.1 1055.2 L1004.5 1054.5 L1005.8 1053.7 L1007.2 1054.0 L1008.5 1052.5 L1009.9 1050.9 L1011.2 1052.1 L1012.6 1050.7 L1013.9 1051.2 L1015.3 1050.8 L1016.7 1051.1 L1018.1 1050.6 L1019.4 1049.0 L1020.8 1049.0 L1022.1 1048.2 L1023.3 1050.8 L1024.6 1050.0 L1025.9 1050.9 L1027.1 1049.7 L1028.4 1048.5 L1029.7 1051.6 L1030.9 1050.6 L1032.2 1050.8 L1033.4 1050.9 L1034.7 1051.6 L1036.0 1051.7 L1037.2 1050.1 L1038.5 1052.5 L1039.8 1051.2 L1041.0 1051.3 L1042.2 1053.1 L1043.5 1052.5 L1044.8 1051.6 L1046.0 1050.4 L1047.2 1052.0 L1048.5 1052.4 L1049.8 1051.9 L1051.0 1051.0 L1052.2 1051.5 L1053.5 1051.1 L1054.8 1052.4 L1056.0 1052.9 L1057.2 1053.1 L1058.5 1051.7 L1059.8 1052.5 L1061.0 1052.8 L1062.3 1052.0 L1063.5 1052.3 L1064.8 1054.1 L1066.0 1052.6 L1067.3 1053.1 L1068.5 1052.1 L1069.8 1052.4 L1071.0 1051.0 L1072.3 1052.4 L1073.6 1053.4 L1074.8 1054.1 L1076.1 1053.4 L1077.3 1052.9 L1078.6 1052.4 L1079.8 1051.9 L1081.1 1052.3 L1082.3 1052.9 L1083.6 1051.8 L1084.8 1053.1 L1086.1 1051.5 L1087.3 1050.8 L1088.6 1051.3 L1089.8 1050.8 L1091.0 1050.9 L1092.3 1052.9 L1093.5 1051.7 L1094.7 1052.0 L1096.0 1052.7 L1097.2 1052.7 L1098.5 1051.3 L1099.7 1052.7 L1101.1 1052.3 L1102.4 1052.3 L1103.8 1053.0 L1105.2 1051.8 L1106.6 1052.7 L1107.9 1053.6 L1109.3 1054.5 L1110.5 1053.7 L1111.8 1053.9 L1113.0 1054.8 L1114.2 1055.1 L1115.4 1054.6 L1116.7 1055.0 L1117.9 1053.7 L1119.1 1053.8 L1120.4 1054.3 L1121.6 1053.8 L1122.8 1053.6 L1124.1 1055.3 L1125.3 1053.8 L1126.5 1053.2 L1127.7 1054.4 L1129.0 1055.5 L1130.2 1054.1 L1131.4 1054.8 L1132.7 1053.3 L1133.9 1053.1 L1135.2 1052.8 L1136.4 1053.1 L1137.6 1054.5 L1138.9 1052.0 L1140.1 1054.1 L1141.3 1051.8 L1142.6 1052.3 L1143.8 1053.0 L1145.1 1052.7 L1146.3 1052.2 L1147.5 1050.5 L1148.8 1052.0 L1150.0 1050.7 L1151.3 1053.4 L1152.5 1051.1 L1153.7 1051.2 L1155.0 1050.0 L1156.2 1050.4 L1157.4 1049.6 L1158.7 1051.2 L1159.9 1050.1 L1161.2 1050.6 L1162.4 1049.5 L1163.6 1049.6 L1164.9 1051.1 L1166.1 1049.3 L1167.4 1048.7 L1168.6 1050.5 L1169.8 1049.3 L1171.1 1049.9 L1172.3 1051.0 L1173.5 1049.6 L1174.8 1051.0 L1176.0 1049.8 L1177.3 1051.6 L1178.5 1051.5 L1179.7 1050.1 L1181.0 1050.3 L1182.2 1049.8 L1183.5 1050.7 L1184.7 1051.5 L1185.9 1049.4 L1187.2 1051.3 L1188.4 1049.6 L1189.6 1050.0 L1190.9 1049.3 L1192.1 1052.4 L1193.4 1050.8 L1194.6 1051.0 L1195.9 1050.0 L1197.1 1051.1 L1198.4 1048.2 L1199.7 1049.6 L1200.9 1051.1 L1202.2 1048.7 L1203.4 1048.8 L1204.7 1049.0 L1206.0 1047.5 L1207.2 1047.9 L1208.5 1048.3 L1209.8 1047.4 L1211.0 1047.3 L1212.3 1046.4 L1213.5 1045.6 L1214.7 1043.9 L1215.9 1043.7 L1217.2 1041.7 L1218.4 1039.5 L1219.6 1036.3 L1220.8 1037.5 L1222.0 1036.1 L1223.3 1034.1 L1224.6 1032.6 L1225.8 1032.6 L1227.1 1033.6 L1228.4 1031.4 L1229.7 1031.2 L1231.0 1031.1 L1232.2 1031.3 L1233.5 1029.6 L1234.8 1028.9 L1236.0 1027.9 L1237.3 1029.1 L1238.5 1028.0 L1239.8 1026.5 L1241.0 1024.8 L1242.2 1024.7 L1243.5 1025.2 L1244.7 1023.5 L1245.9 1024.2 L1247.2 1023.1 L1248.4 1022.5 L1249.7 1022.1 L1250.9 1021.4 L1252.1 1019.7 L1253.4 1019.5 L1254.6 1021.0 L1255.9 1017.5 L1257.1 1017.5 L1258.3 1018.1 L1259.6 1016.5 L1260.8 1015.4 L1262.0 1014.3 L1263.3 1015.2 L1264.5 1015.0 L1265.8 1014.6 L1267.0 1012.9 L1268.2 1013.1 L1269.5 1010.8 L1270.7 1011.2 L1272.0 1009.9 L1273.2 1010.0 L1274.4 1009.8 L1275.7 1009.4 L1276.9 1007.2 L1278.1 1008.4 L1279.4 1006.4 L1280.6 1005.3 L1281.9 1005.4 L1283.1 1003.7 L1284.3 1004.5 L1285.6 1004.3 L1286.8 1003.4 L1288.1 1003.6 L1289.3 1002.5 L1290.5 1002.3 L1291.8 1000.7 L1293.0 1001.5 L1294.2 1000.3 L1295.5 1000.2 L1296.7 1000.1 L1298.0 999.9 L1299.2 998.0 L1300.4 997.5 L1301.7 998.1 L1302.9 998.2 L1304.2 997.6 L1305.4 997.5 L1306.6 997.3 L1307.9 996.2 L1309.1 995.3 L1310.3 994.0 L1311.6 993.5 L1312.8 993.4 L1314.1 993.5 L1315.3 993.0 L1316.5 992.6 L1317.8 992.2 L1319.0 992.6 L1320.3 992.0 L1321.5 991.8 L1322.7 991.6 L1324.0 990.6 L1325.2 990.0 L1326.4 991.0 L1327.7 990.7 L1328.9 989.9 L1330.2 989.5 L1331.4 991.4 L1332.6 988.4 L1333.9 988.3 L1335.1 988.2 L1336.4 986.5 L1337.6 986.9 L1338.8 987.7 L1340.1 986.5 L1341.3 985.7 L1342.5 985.1 L1343.8 984.2 L1345.0 984.3 L1346.3 982.8 L1347.5 982.1 L1348.7 982.1 L1349.9 982.4 L1351.1 981.6 L1352.3 981.5 L1353.5 979.0 L1354.7 981.2 L1355.9 981.7 L1357.1 980.5 L1358.3 978.9 L1359.5 978.1 L1360.7 978.6 L1361.9 977.2 L1363.1 978.2 L1364.3 976.9 L1365.5 977.7 L1366.7 977.6 L1367.9 974.6 L1369.1 976.1 L1370.3 974.9 L1371.5 975.1" fill="none" stroke="#CDB9F0" stroke-width="4.0" stroke-linejoin="round" stroke-linecap="round" clip-path="url(#ce2)"/>
<path d="M815.0 1147.0 L816.5 1145.6 L818.0 1146.0 L819.2 1146.3 L820.4 1147.3 L821.7 1145.2 L822.9 1147.3 L824.1 1148.0 L825.3 1146.9 L826.6 1146.8 L827.8 1146.3 L829.0 1145.4 L830.2 1146.7 L831.5 1146.6 L832.7 1146.8 L833.9 1148.3 L835.1 1146.8 L836.4 1146.5 L837.6 1147.4 L838.8 1145.1 L840.0 1145.2 L841.3 1145.8 L842.5 1145.6 L843.7 1146.6 L844.9 1145.8 L846.2 1147.4 L847.4 1147.2 L848.6 1146.6 L849.8 1144.0 L851.0 1143.2 L852.2 1141.7 L853.5 1138.5 L854.7 1138.0 L855.9 1136.7 L857.1 1134.6 L858.3 1134.1 L859.5 1133.3 L860.8 1131.3 L862.0 1131.6 L863.3 1130.4 L864.5 1131.1 L865.7 1129.5 L867.0 1130.5 L868.2 1129.7 L869.4 1129.7 L870.7 1128.4 L871.9 1126.9 L873.2 1129.0 L874.4 1127.1 L875.6 1127.7 L876.9 1126.3 L878.1 1125.9 L879.4 1126.2 L880.6 1124.4 L881.8 1124.6 L883.1 1121.7 L884.3 1122.9 L885.5 1121.4 L886.8 1120.9 L888.0 1120.4 L889.3 1120.0 L890.5 1120.4 L891.7 1116.8 L893.0 1117.5 L894.2 1116.1 L895.5 1116.8 L896.7 1114.8 L897.9 1114.7 L899.2 1113.2 L900.4 1113.2 L901.6 1112.7 L902.9 1110.8 L904.1 1110.3 L905.4 1108.4 L906.6 1108.9 L907.8 1108.8 L909.0 1107.0 L910.2 1107.8 L911.4 1104.6 L912.6 1104.2 L913.8 1104.0 L915.0 1104.1 L916.2 1103.9 L917.4 1103.2 L918.7 1102.6 L919.9 1102.6 L921.1 1101.1 L922.3 1099.8 L923.5 1099.2 L924.7 1101.3 L925.9 1097.1 L927.1 1098.3 L928.3 1099.0 L929.5 1097.6 L930.7 1095.9 L931.9 1096.1 L933.1 1096.3 L934.3 1096.1 L935.5 1094.0 L936.7 1094.8 L937.9 1093.9 L939.1 1094.1 L940.3 1093.9 L941.5 1092.0 L942.8 1090.6 L944.0 1091.6 L945.2 1092.3 L946.4 1090.9 L947.6 1090.1 L948.8 1091.3 L950.0 1088.1 L951.2 1089.2 L952.4 1087.5 L953.6 1087.5 L954.8 1087.1 L956.0 1087.6 L957.2 1085.0 L958.4 1084.8 L959.6 1083.3 L960.8 1084.4 L962.1 1083.0 L963.3 1083.1 L964.5 1081.3 L965.7 1081.3 L966.9 1081.8 L968.1 1080.2 L969.3 1080.2 L970.5 1079.6 L971.7 1078.2 L973.0 1076.7 L974.2 1078.1 L975.4 1076.9 L976.6 1076.9 L977.8 1073.9 L979.0 1073.6 L980.2 1072.7 L981.4 1073.3 L982.6 1074.4 L983.8 1073.6 L985.0 1072.6 L986.2 1072.3 L987.4 1072.4 L988.6 1071.1 L989.8 1071.2 L991.0 1070.6 L992.3 1068.3 L993.5 1069.3 L994.7 1070.2 L995.9 1068.4 L997.1 1068.1 L998.3 1067.3 L999.5 1066.9 L1000.7 1067.8 L1001.9 1066.2 L1003.1 1065.2 L1004.3 1063.3 L1005.6 1065.2 L1006.8 1063.9 L1008.1 1063.8 L1009.3 1065.7 L1010.5 1065.5 L1011.8 1063.2 L1013.0 1065.2 L1014.2 1064.7 L1015.5 1063.5 L1016.7 1064.6 L1018.0 1062.5 L1019.2 1062.6 L1020.6 1062.3 L1021.9 1062.4 L1023.2 1063.9 L1024.6 1062.0 L1026.0 1062.0 L1027.3 1062.0 L1028.6 1063.5 L1030.0 1063.6 L1031.3 1065.1 L1032.6 1064.4 L1034.0 1064.4 L1035.3 1065.6 L1036.5 1066.0 L1037.8 1065.3 L1039.0 1066.2 L1040.3 1067.4 L1041.5 1065.5 L1042.7 1066.0 L1044.0 1067.1 L1045.2 1065.5 L1046.4 1065.3 L1047.7 1065.1 L1048.9 1066.3 L1050.2 1066.4 L1051.4 1065.9 L1052.6 1066.0 L1053.9 1066.9 L1055.1 1066.5 L1056.4 1064.6 L1057.6 1065.7 L1058.8 1065.7 L1060.1 1066.1 L1061.3 1065.3 L1062.5 1064.9 L1063.8 1065.0 L1065.0 1063.9 L1066.3 1065.2 L1067.5 1064.7 L1068.7 1065.5 L1070.0 1064.2 L1071.2 1064.6 L1072.5 1064.1 L1073.7 1064.0 L1074.9 1065.4 L1076.2 1064.4 L1077.4 1065.0 L1078.6 1063.7 L1079.9 1064.6 L1081.1 1063.1 L1082.4 1064.0 L1083.6 1064.0 L1084.8 1065.0 L1086.1 1064.9 L1087.3 1064.8 L1088.6 1065.8 L1089.8 1065.4 L1091.0 1065.9 L1092.3 1066.3 L1093.5 1065.8 L1094.7 1065.8 L1096.0 1066.5 L1097.2 1066.1 L1098.5 1066.9 L1099.7 1067.7 L1101.1 1067.7 L1102.4 1066.9 L1103.8 1066.5 L1105.2 1067.7 L1106.6 1067.9 L1107.9 1069.1 L1109.3 1068.2 L1110.5 1068.4 L1111.8 1069.2 L1113.0 1068.4 L1114.2 1068.7 L1115.4 1070.3 L1116.7 1070.2 L1117.9 1069.6 L1119.1 1069.4 L1120.4 1068.5 L1121.6 1069.8 L1122.8 1069.5 L1124.1 1069.8 L1125.3 1069.3 L1126.5 1069.8 L1127.7 1069.7 L1129.0 1070.2 L1130.2 1071.2 L1131.4 1070.0 L1132.7 1068.0 L1133.9 1068.2 L1135.2 1067.3 L1136.4 1067.5 L1137.6 1068.2 L1138.9 1067.7 L1140.1 1066.6 L1141.3 1066.9 L1142.6 1065.7 L1143.8 1064.8 L1145.1 1064.4 L1146.3 1064.5 L1147.5 1066.4 L1148.7 1064.3 L1149.9 1066.4 L1151.1 1066.5 L1152.3 1065.4 L1153.6 1065.6 L1154.8 1065.2 L1156.0 1065.8 L1157.2 1066.4 L1158.4 1066.0 L1159.6 1066.8 L1160.8 1067.1 L1162.0 1066.5 L1163.2 1066.5 L1164.5 1066.3 L1165.7 1066.7 L1166.9 1065.6 L1168.1 1066.9 L1169.3 1066.8 L1170.5 1066.1 L1171.7 1068.5 L1172.9 1066.1 L1174.1 1066.2 L1175.3 1067.1 L1176.5 1065.4 L1177.7 1066.4 L1178.9 1065.8 L1180.1 1066.3 L1181.3 1067.0 L1182.5 1067.4 L1183.8 1068.1 L1185.0 1067.9 L1186.2 1068.2 L1187.4 1067.8 L1188.6 1067.0 L1189.8 1068.3 L1191.0 1067.0 L1192.2 1067.0 L1193.4 1068.7 L1194.6 1068.2 L1195.9 1066.9 L1197.3 1066.6 L1198.6 1065.9 L1199.9 1063.3 L1201.3 1063.5 L1202.6 1061.8 L1203.8 1062.2 L1205.1 1061.0 L1206.3 1062.0 L1207.6 1060.7 L1208.8 1059.0 L1210.0 1059.0 L1211.3 1057.5 L1212.5 1057.9 L1213.7 1057.7 L1215.0 1056.8 L1216.2 1054.4 L1217.5 1055.1 L1218.7 1055.2 L1219.9 1054.6 L1221.2 1054.8 L1222.4 1052.4 L1223.7 1053.4 L1224.9 1052.1 L1226.1 1052.3 L1227.4 1052.0 L1228.6 1051.8 L1229.8 1050.4 L1231.1 1050.6 L1232.3 1049.0 L1233.6 1048.4 L1234.8 1049.5 L1236.0 1048.6 L1237.3 1046.9 L1238.5 1047.1 L1239.8 1047.4 L1241.0 1048.2 L1242.2 1047.3 L1243.5 1046.7 L1244.7 1044.2 L1245.9 1045.1 L1247.2 1045.1 L1248.4 1044.6 L1249.7 1044.2 L1250.9 1043.3 L1252.1 1044.4 L1253.4 1043.6 L1254.6 1041.9 L1255.9 1040.7 L1257.1 1042.6 L1258.3 1040.0 L1259.6 1040.9 L1260.8 1041.0 L1262.0 1038.2 L1263.3 1038.7 L1264.5 1037.7 L1265.8 1037.9 L1267.0 1037.3 L1268.2 1038.1 L1269.5 1036.5 L1270.7 1035.5 L1272.0 1035.9 L1273.2 1034.3 L1274.4 1033.7 L1275.7 1035.3 L1276.9 1032.4 L1278.1 1032.1 L1279.4 1032.1 L1280.6 1030.7 L1281.9 1029.4 L1283.1 1031.4 L1284.3 1029.4 L1285.6 1029.0 L1286.8 1028.6 L1288.1 1027.6 L1289.3 1026.9 L1290.5 1027.4 L1291.8 1028.6 L1293.0 1026.7 L1294.2 1026.2 L1295.5 1023.8 L1296.7 1024.4 L1298.0 1023.0 L1299.2 1024.0 L1300.4 1022.6 L1301.7 1022.3 L1302.9 1021.6 L1304.2 1020.7 L1305.4 1019.4 L1306.6 1020.5 L1307.9 1018.4 L1309.1 1018.0 L1310.3 1018.1 L1311.6 1017.2 L1312.8 1017.5 L1314.1 1017.5 L1315.3 1016.4 L1316.5 1015.8 L1317.7 1015.2 L1318.9 1015.4 L1320.1 1012.7 L1321.3 1014.0 L1322.5 1012.5 L1323.7 1011.8 L1324.9 1012.3 L1326.1 1011.5 L1327.3 1011.8 L1328.6 1011.7 L1329.8 1008.5 L1331.0 1009.8 L1332.2 1010.9 L1333.4 1009.6 L1334.6 1009.5 L1335.8 1008.0 L1337.0 1006.3 L1338.2 1006.0 L1339.4 1007.0 L1340.6 1006.7 L1341.9 1004.9 L1343.1 1004.8 L1344.4 1004.7 L1345.6 1002.6 L1346.8 1003.2 L1348.1 1004.3 L1349.3 1004.3 L1350.5 1001.9 L1351.8 1003.0 L1353.0 1000.6 L1354.3 999.9 L1355.5 998.3 L1356.7 1000.4 L1358.0 998.9 L1359.2 1000.6 L1360.4 998.6 L1361.7 998.0 L1362.9 996.0 L1364.1 998.2 L1365.3 996.3 L1366.6 996.0 L1367.8 993.9 L1369.0 996.0 L1370.3 995.6 L1371.5 994.4" fill="none" stroke="#F9F67C" stroke-width="4.0" stroke-linejoin="round" stroke-linecap="round" clip-path="url(#ce2)"/>
<line x1="1237.9" y1="1105.5" x2="1287.2" y2="1105.5" stroke="#CDB9F0" stroke-width="4.6" stroke-linecap="round"/>
<text x="1294.5" y="1113.9" font-size="23.3" font-weight="bold" text-anchor="start" fill="#000">270 nm</text>
<line x1="1237.9" y1="1132" x2="1287.2" y2="1132" stroke="#F9F67C" stroke-width="4.6" stroke-linecap="round"/>
<text x="1294.5" y="1140.4" font-size="23.3" font-weight="bold" text-anchor="start" fill="#000">240 nm</text>
<rect x="814.2" y="964.3" width="557.2" height="183" fill="none" stroke="#000" stroke-width="2.4" stroke-linejoin="round"/>
<line x1="814.2" y1="1000.9" x2="820.2" y2="1000.9" stroke="#000" stroke-width="2"/>
<text x="804" y="1007.7" font-size="23" font-weight="bold" text-anchor="end" fill="#000">0.4</text>
<line x1="814.2" y1="1074.1" x2="820.2" y2="1074.1" stroke="#000" stroke-width="2"/>
<text x="804" y="1080.9" font-size="23" font-weight="bold" text-anchor="end" fill="#000">0.2</text>
<line x1="814.2" y1="1147.3" x2="820.2" y2="1147.3" stroke="#000" stroke-width="2"/>
<text x="804" y="1154.1" font-size="23" font-weight="bold" text-anchor="end" fill="#000">0.0</text>
<line x1="849" y1="1147.3" x2="849" y2="1138.8" stroke="#000" stroke-width="2.2"/>
<text x="849" y="1176" font-size="23" font-weight="bold" text-anchor="middle" fill="#000">10</text>
<line x1="1023.2" y1="1147.3" x2="1023.2" y2="1138.8" stroke="#000" stroke-width="2.2"/>
<text x="1023.2" y="1176" font-size="23" font-weight="bold" text-anchor="middle" fill="#000">60</text>
<line x1="1197.3" y1="1147.3" x2="1197.3" y2="1138.8" stroke="#000" stroke-width="2.2"/>
<text x="1197.3" y="1176" font-size="23" font-weight="bold" text-anchor="middle" fill="#000">110</text>
<line x1="1371.4" y1="1147.3" x2="1371.4" y2="1138.8" stroke="#000" stroke-width="2.2"/>
<text x="1371.4" y="1176" font-size="23" font-weight="bold" text-anchor="middle" fill="#000">160</text>
<text x="754.8" y="922" font-size="38.7" font-weight="bold" text-anchor="middle" fill="#000" transform="rotate(-90 754.8 922)">Photocurrent (&#956;A)</text>
<text x="1071.8" y="1226.5" font-size="40.7" font-weight="bold" text-anchor="middle" fill="#000">Time (sec)</text>
<text x="700.6" y="671" font-size="66" font-weight="normal" text-anchor="start" fill="#000">(e)</text>
<clipPath id="cf"><rect x="1504.3" y="699.2" width="557.7" height="448.6"/></clipPath>
<rect x="1529.3" y="699.2" width="39.1" height="448.6" fill="#FEF8E5" stroke="none" stroke-width="0"/>
<line x1="1529.3" y1="701.2" x2="1529.3" y2="1145.8" stroke="#c8c8c8" stroke-width="1.2" stroke-dasharray="3 3"/>
<line x1="1568.4" y1="701.2" x2="1568.4" y2="1145.8" stroke="#c8c8c8" stroke-width="1.2" stroke-dasharray="3 3"/>
<rect x="1813.9" y="699.2" width="39.6" height="448.6" fill="#FEF8E5" stroke="none" stroke-width="0"/>
<line x1="1813.9" y1="701.2" x2="1813.9" y2="1145.8" stroke="#c8c8c8" stroke-width="1.2" stroke-dasharray="3 3"/>
<line x1="1853.4" y1="701.2" x2="1853.4" y2="1145.8" stroke="#c8c8c8" stroke-width="1.2" stroke-dasharray="3 3"/>
<path d="M1504.0 748.5 L1533.6 748.5 L1535.0 756.0 L1537.0 848.0 L1540.7 952.0 L1541.2 959.6 L1541.7 967.0 L1542.2 974.0 L1542.8 980.8 L1543.3 987.2 L1543.8 993.2 L1544.3 999.2 L1544.8 1004.9 L1545.3 1010.4 L1545.8 1015.6 L1546.3 1020.4 L1546.9 1024.8 L1547.4 1028.7 L1547.9 1032.4 L1548.4 1036.0 L1548.9 1039.3 L1549.4 1042.6 L1549.9 1045.6 L1550.4 1048.6 L1551.0 1051.4 L1551.5 1054.2 L1552.0 1056.9 L1552.5 1059.5 L1553.0 1062.1 L1553.5 1064.6 L1554.0 1067.1 L1554.6 1069.6 L1555.1 1072.0 L1555.6 1074.4 L1556.1 1076.7 L1556.6 1078.9 L1557.1 1081.1 L1557.6 1083.1 L1558.1 1085.0 L1558.7 1086.8 L1559.2 1088.5 L1559.7 1090.1 L1560.2 1091.6 L1560.7 1093.1 L1561.2 1094.6 L1561.7 1096.1 L1562.2 1097.5 L1562.8 1098.8 L1563.3 1100.2 L1563.8 1101.4 L1564.3 1102.7 L1564.8 1103.8 L1565.3 1104.9 L1565.8 1106.0 L1566.3 1106.9 L1566.9 1107.8 L1567.4 1108.6 L1567.9 1109.4 L1568.4 1110.0 L1569.9 1098.4 L1571.4 1087.9 L1572.9 1077.8 L1574.4 1068.3 L1576.0 1059.1 L1577.5 1051.1 L1579.0 1042.3 L1580.5 1034.5 L1582.0 1027.7 L1583.5 1021.1 L1585.0 1016.4 L1586.5 1012.2 L1588.0 1007.6 L1589.6 1003.2 L1591.1 999.7 L1592.6 995.3 L1594.1 992.2 L1595.6 989.0 L1597.1 985.7 L1598.6 982.1 L1600.1 979.6 L1601.6 977.0 L1603.1 973.6 L1604.7 971.5 L1606.2 968.5 L1607.7 966.2 L1609.2 964.9 L1610.7 962.8 L1612.2 960.9 L1613.7 958.7 L1615.2 956.9 L1616.7 955.2 L1618.3 953.4 L1619.8 950.6 L1621.3 947.8 L1622.8 946.3 L1624.3 943.6 L1625.8 941.2 L1627.3 938.6 L1628.8 936.9 L1630.3 934.1 L1631.9 932.2 L1633.4 929.7 L1634.9 928.5 L1636.4 927.0 L1637.9 925.8 L1639.4 924.6 L1640.9 923.1 L1642.4 922.6 L1643.9 920.5 L1645.5 919.5 L1647.0 918.4 L1648.5 916.7 L1650.0 915.8 L1651.5 914.3 L1653.0 912.5 L1654.5 911.6 L1656.0 909.5 L1657.5 908.2 L1659.1 906.5 L1660.6 905.2 L1662.1 904.7 L1663.6 904.2 L1665.1 903.8 L1666.6 903.8 L1668.1 902.6 L1669.6 902.5 L1671.1 901.8 L1672.6 901.9 L1674.2 900.4 L1675.7 899.3 L1677.2 897.9 L1678.7 897.2 L1680.2 895.5 L1681.7 894.3 L1683.2 892.4 L1684.7 892.1 L1686.2 890.8 L1687.8 889.6 L1689.3 888.6 L1690.8 887.0 L1692.3 885.8 L1693.8 884.9 L1695.3 883.6 L1696.8 882.3 L1698.3 881.4 L1699.8 880.3 L1701.4 879.9 L1702.9 879.3 L1704.4 878.3 L1705.9 878.1 L1707.4 876.2 L1708.9 875.3 L1710.4 874.2 L1711.9 871.8 L1713.4 869.9 L1715.0 869.6 L1716.5 868.3 L1718.0 866.9 L1719.5 866.7 L1721.0 865.4 L1722.5 864.6 L1724.0 864.3 L1725.5 863.6 L1727.0 862.7 L1728.5 862.3 L1730.1 861.4 L1731.6 861.0 L1733.1 860.2 L1734.6 859.6 L1736.1 858.3 L1737.6 857.1 L1739.1 856.2 L1740.6 855.6 L1742.1 855.1 L1743.7 854.0 L1745.2 852.6 L1746.7 852.1 L1748.2 850.6 L1749.7 850.4 L1751.2 849.2 L1752.7 848.8 L1754.2 848.0 L1755.7 847.1 L1757.3 846.6 L1758.8 845.5 L1760.3 845.2 L1761.8 844.9 L1763.3 845.2 L1764.8 843.6 L1766.3 842.7 L1767.8 841.7 L1769.3 841.6 L1770.9 840.0 L1772.4 839.4 L1773.9 838.8 L1775.4 837.3 L1776.9 837.2 L1778.4 836.1 L1779.9 834.8 L1781.4 834.0 L1782.9 833.1 L1784.5 832.5 L1786.0 832.4 L1787.5 831.9 L1789.0 831.3 L1790.5 830.7 L1792.0 830.0 L1793.5 829.7 L1795.0 828.6 L1796.5 828.5 L1798.0 828.3 L1799.6 827.6 L1801.1 826.5 L1802.6 825.9 L1804.1 825.7 L1805.6 825.3 L1807.1 823.7 L1808.6 823.6 L1810.1 823.4 L1811.6 823.4 L1813.2 822.5 L1814.7 822.7 L1816.2 822.2 L1817.7 822.8 L1819.2 822.0 L1821.0 840.0 L1824.7 909.6 L1827.4 986.3 L1827.9 991.6 L1828.4 996.8 L1829.0 1001.9 L1829.5 1006.8 L1830.0 1011.7 L1830.5 1016.5 L1831.0 1021.1 L1831.5 1025.6 L1832.1 1030.0 L1832.6 1034.2 L1833.1 1038.3 L1833.6 1042.2 L1834.1 1046.0 L1834.6 1049.7 L1835.2 1053.3 L1835.7 1056.9 L1836.2 1060.5 L1836.7 1063.9 L1837.2 1067.2 L1837.7 1070.5 L1838.3 1073.6 L1838.8 1076.5 L1839.3 1079.3 L1839.8 1082.0 L1840.3 1084.4 L1840.8 1086.7 L1841.4 1088.7 L1841.9 1090.6 L1842.4 1092.4 L1842.9 1094.1 L1843.4 1095.6 L1843.9 1097.2 L1844.5 1098.6 L1845.0 1100.0 L1845.5 1101.4 L1846.0 1102.7 L1846.5 1104.1 L1847.0 1105.4 L1847.6 1106.8 L1848.1 1108.2 L1848.6 1109.7 L1849.1 1111.1 L1849.6 1112.5 L1850.1 1113.9 L1850.7 1115.3 L1851.2 1116.7 L1851.7 1118.0 L1852.2 1119.4 L1852.7 1120.7 L1853.2 1122.1 L1853.8 1123.4 L1854.3 1124.7 L1854.8 1126.0 L1856.2 1114.5 L1857.7 1103.0 L1859.2 1091.6 L1860.8 1080.6 L1862.3 1068.4 L1863.8 1055.1 L1865.3 1043.3 L1866.8 1032.6 L1868.3 1025.2 L1869.8 1018.4 L1871.3 1012.6 L1872.9 1007.5 L1874.4 1002.6 L1875.9 998.6 L1877.4 994.4 L1878.9 989.9 L1880.4 985.6 L1881.9 982.3 L1883.4 977.7 L1885.0 974.2 L1886.5 971.6 L1888.0 968.4 L1889.5 965.5 L1891.0 962.4 L1892.5 959.6 L1894.0 957.4 L1895.6 955.6 L1897.1 953.1 L1898.6 951.2 L1900.1 949.2 L1901.6 947.5 L1903.1 946.4 L1904.6 944.6 L1906.1 942.4 L1907.7 940.8 L1909.2 939.3 L1910.7 938.0 L1912.2 935.8 L1913.7 934.6 L1915.2 932.4 L1916.7 931.2 L1918.3 930.2 L1919.8 928.9 L1921.3 926.8 L1922.8 925.5 L1924.3 924.6 L1925.8 922.9 L1927.3 921.4 L1928.8 920.4 L1930.4 918.9 L1931.9 917.9 L1933.4 916.5 L1934.9 914.7 L1936.4 913.6 L1937.9 912.3 L1939.4 910.7 L1940.9 909.6 L1942.5 909.0 L1944.0 907.0 L1945.5 906.6 L1947.0 905.2 L1948.5 904.0 L1950.0 903.1 L1951.5 902.0 L1953.1 901.2 L1954.6 899.7 L1956.1 898.8 L1957.6 897.8 L1959.1 897.5 L1960.6 896.2 L1962.1 894.7 L1963.6 893.9 L1965.2 892.8 L1966.7 892.0 L1968.2 891.1 L1969.7 890.7 L1971.2 888.3 L1972.7 888.1 L1974.2 886.8 L1975.8 885.3 L1977.3 884.3 L1978.8 883.0 L1980.3 882.0 L1981.8 881.1 L1983.3 879.2 L1984.8 878.8 L1986.3 877.2 L1987.9 876.6 L1989.4 875.2 L1990.9 874.4 L1992.4 873.2 L1993.9 872.4 L1995.4 871.1 L1996.9 869.9 L1998.4 869.4 L2000.0 868.4 L2001.5 867.9 L2003.0 865.8 L2004.5 865.4 L2006.0 864.9 L2007.5 863.4 L2009.0 862.9 L2010.6 862.8 L2012.1 861.8 L2013.6 860.3 L2015.1 860.2 L2016.6 859.4 L2018.1 858.6 L2019.6 857.8 L2021.1 857.1 L2022.7 856.1 L2024.2 855.5 L2025.7 855.3 L2027.2 854.5 L2028.7 854.4 L2030.2 853.1 L2031.7 851.8 L2033.3 851.9 L2034.8 851.4 L2036.3 850.8 L2037.8 850.1 L2039.3 849.2 L2040.8 849.3 L2042.3 848.0 L2043.8 847.7 L2045.4 846.8 L2046.9 845.9 L2048.4 846.0 L2049.9 844.2 L2051.4 844.0 L2052.9 843.8 L2054.4 842.9 L2055.9 842.6 L2057.5 841.7 L2059.0 840.9 L2060.5 841.1 L2062.0 839.8" fill="none" stroke="#5A6EF5" stroke-width="6.0" stroke-linejoin="round" stroke-linecap="round" clip-path="url(#cf)"/>
<line x1="1936.2" y1="714" x2="1978.2" y2="714" stroke="#5A6EF5" stroke-width="6.0" stroke-linecap="round"/>
<text x="1985.5" y="722.4" font-size="23.3" font-weight="bold" text-anchor="start" fill="#000">360 nm</text>
<rect x="1988.2" y="1085.3" width="70.8" height="29.3" fill="#FEF8E5" stroke="#000" stroke-width="2.3"/>
<rect x="1988.2" y="1115.8" width="70.8" height="29.4" fill="#fff" stroke="#000" stroke-width="2.3"/>
<text x="2023.6" y="1108.2" font-size="26.3" font-weight="bold" text-anchor="middle" fill="#000">Light</text>
<text x="2023.6" y="1139.4" font-size="26.3" font-weight="bold" text-anchor="middle" fill="#000">Dark</text>
<rect x="1504.3" y="699.2" width="557.7" height="448.6" fill="none" stroke="#000" stroke-width="2.4" stroke-linejoin="round"/>
<line x1="1504.3" y1="748.8" x2="1511.8" y2="748.8" stroke="#000" stroke-width="2.2"/>
<line x1="1504.3" y1="1106.5" x2="1511.8" y2="1106.5" stroke="#000" stroke-width="2.2"/>
<line x1="1504.3" y1="928" x2="1507.8" y2="928" stroke="#000" stroke-width="1.8"/>
<text x="1494" y="756.6" font-size="23" font-weight="bold" text-anchor="end" fill="#000">0</text>
<text x="1494" y="1113.8" font-size="23" font-weight="bold" text-anchor="end" fill="#000">-18</text>
<line x1="1528.5" y1="1147.8" x2="1528.5" y2="1138.8" stroke="#000" stroke-width="2.2"/>
<line x1="1568.3" y1="1147.8" x2="1568.3" y2="1138.8" stroke="#000" stroke-width="2.2"/>
<line x1="1813.2" y1="1147.8" x2="1813.2" y2="1138.8" stroke="#000" stroke-width="2.2"/>
<line x1="1854.4" y1="1147.8" x2="1854.4" y2="1138.8" stroke="#000" stroke-width="2.2"/>
<text x="1528.6" y="1176" font-size="23" font-weight="bold" text-anchor="middle" fill="#000">5</text>
<text x="1568.6" y="1176" font-size="23" font-weight="bold" text-anchor="middle" fill="#000">20</text>
<text x="1813.6" y="1176" font-size="23" font-weight="bold" text-anchor="middle" fill="#000">120</text>
<text x="1856" y="1176" font-size="23" font-weight="bold" text-anchor="middle" fill="#000">135</text>
<text x="1785" y="687.2" font-size="26.5" font-weight="bold" text-anchor="middle" fill="#000">High power intensity laser (60mW/cm&#178;)</text>
<text x="1444.8" y="924.6" font-size="38.7" font-weight="bold" text-anchor="middle" fill="#000" transform="rotate(-90 1444.8 924.6)">Photocurrent (&#956;A)</text>
<text x="1762.6" y="1226.5" font-size="40.7" font-weight="bold" text-anchor="middle" fill="#000">Time (sec)</text>
<text x="1391" y="671" font-size="66" font-weight="normal" text-anchor="start" fill="#000" textLength="77" lengthAdjust="spacing">(f)</text>
</svg></body></html>
